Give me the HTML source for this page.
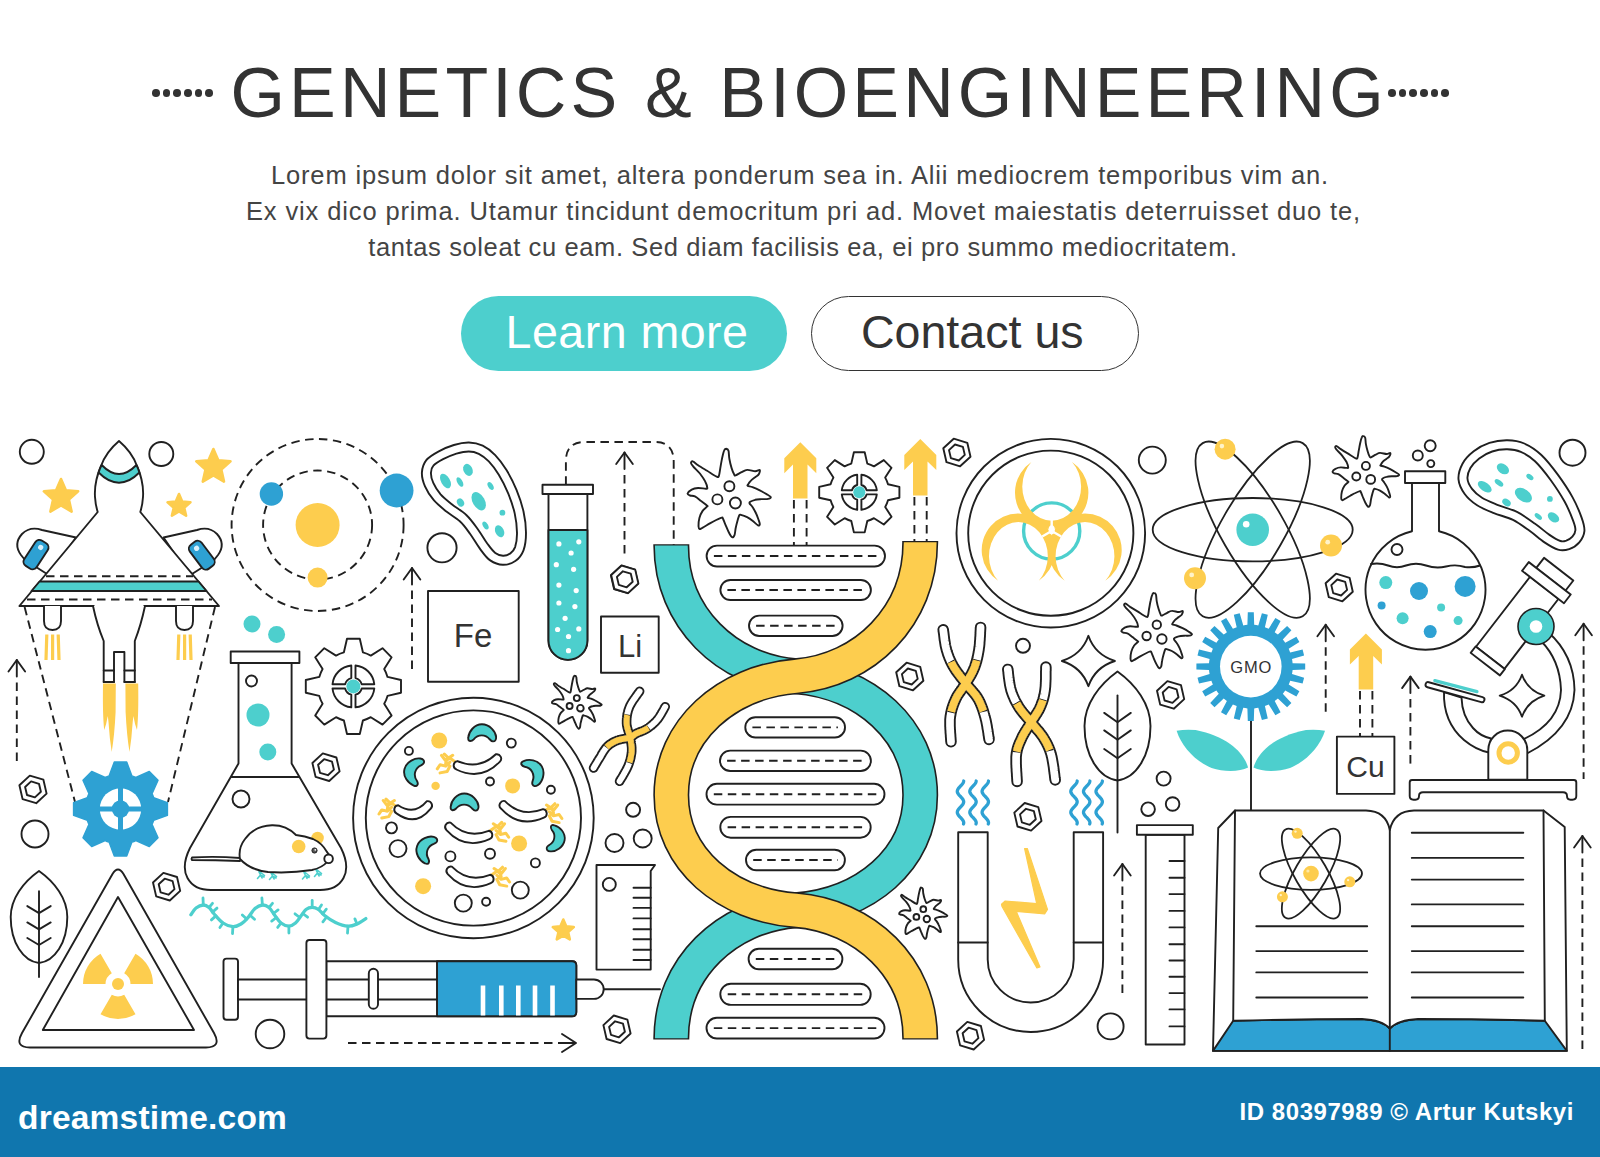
<!DOCTYPE html>
<html lang="en"><head><meta charset="utf-8"><title>Genetics &amp; Bioengineering</title>
<style>
html,body{margin:0;padding:0;background:#fff;}
body{width:1600px;height:1157px;position:relative;overflow:hidden;font-family:"Liberation Sans",sans-serif;color:#333;}
#title{position:absolute;left:230.5px;top:55px;font-size:70px;line-height:76px;letter-spacing:4.13px;color:#333;white-space:nowrap;}
.dots{position:absolute;top:89.1px;height:7.6px;white-space:nowrap;font-size:0;}
.dots i{display:inline-block;width:7.6px;height:7.6px;border-radius:50%;background:#333;margin-right:3px;vertical-align:top;}
#para{position:absolute;left:0;top:157px;width:1600px;text-align:center;font-size:25.5px;line-height:36px;color:#444;white-space:nowrap;}
#para span{display:block;}
.btn{position:absolute;top:296px;height:75px;border-radius:38px;box-sizing:border-box;text-align:center;font-size:46.6px;line-height:72.6px;white-space:nowrap;}
#b1{left:461px;width:326px;background:#4dcfcd;color:#fff;letter-spacing:0.45px;padding-left:6px;}
#b2{left:811px;width:328px;background:#fff;border:1.6px solid #333;color:#333;line-height:71px;padding-right:5.5px;}
#foot{position:absolute;left:0;top:1067px;width:1600px;height:90px;background:#1076ae;}
#logo{position:absolute;left:18px;top:1096px;font-size:33.5px;line-height:44px;font-weight:bold;color:#fff;letter-spacing:0.2px;white-space:nowrap;}
#credit{position:absolute;right:26px;top:1097px;font-size:24px;line-height:30px;font-weight:bold;color:#fff;white-space:nowrap;letter-spacing:0.55px;}
svg{position:absolute;left:0;top:0;}
.l{fill:none;stroke:#202020;stroke-width:1.9;stroke-linecap:round;stroke-linejoin:round;}
.w{fill:#fff;stroke:#202020;stroke-width:1.9;stroke-linecap:round;stroke-linejoin:round;}
.d{fill:none;stroke:#202020;stroke-width:1.9;stroke-dasharray:8.5 5.5;}
.t{fill:#4dcfcd;}.y{fill:#fdcd4e;}.b{fill:#2ea1d3;}
.ts{fill:#4dcfcd;stroke:#202020;stroke-width:1.9;stroke-linejoin:round;}
.bs{fill:#2ea1d3;stroke:#202020;stroke-width:1.9;stroke-linejoin:round;}
text{font-family:"Liberation Sans",sans-serif;fill:#333;}
</style></head><body>
<div id="title">GENETICS &amp; BIOENGINEERING</div>
<div class="dots" style="left:152.3px"><i></i><i></i><i></i><i></i><i></i><i></i></div>
<div class="dots" style="left:1388.2px"><i></i><i></i><i></i><i></i><i></i><i></i></div>
<div id="para"><span id="p1" style="letter-spacing:0.86px">Lorem ipsum dolor sit amet, altera ponderum sea in. Alii mediocrem temporibus vim an.</span><span id="p2" style="letter-spacing:0.875px;padding-left:7px">Ex vix dico prima. Utamur tincidunt democritum pri ad. Movet maiestatis deterruisset duo te,</span><span id="p3" style="letter-spacing:0.62px;padding-left:6px">tantas soleat cu eam. Sed diam facilisis ea, ei pro summo mediocritatem.</span></div>
<div class="btn" id="b1">Learn more</div>
<div class="btn" id="b2">Contact us</div>
<svg width="1600" height="1157" viewBox="0 0 1600 1157">
<rect class="w" x="706.6" y="545.6" width="178.4" height="20.9" rx="10.4"/><path class="d" d="M713.9,556 H877.7"/>
<rect class="w" x="720.4" y="580" width="150.5" height="20" rx="10"/><path class="d" d="M727.4,590 H863.9"/>
<rect class="w" x="749" y="615.6" width="93.6" height="20.4" rx="10.2"/><path class="d" d="M756.1,625.8 H835.5"/>
<rect class="w" x="745.3" y="717.2" width="99.7" height="20.3" rx="10.1"/><path class="d" d="M752.4,727.4 H837.9"/>
<rect class="w" x="720" y="750.6" width="150.9" height="20.4" rx="10.2"/><path class="d" d="M727.1,760.8 H863.8"/>
<rect class="w" x="706.5" y="783.8" width="178" height="20.8" rx="10.4"/><path class="d" d="M713.8,794.2 H877.2"/>
<rect class="w" x="720.3" y="816.9" width="150.4" height="20.8" rx="10.4"/><path class="d" d="M727.6,827.3 H863.4"/>
<rect class="w" x="746" y="849.7" width="98.9" height="20.6" rx="10.3"/><path class="d" d="M753.2,860 H837.7"/>
<rect class="w" x="748.6" y="948.7" width="93.8" height="20.6" rx="10.3"/><path class="d" d="M755.8,959 H835.2"/>
<rect class="w" x="720.3" y="983.8" width="150.4" height="21.1" rx="10.6"/><path class="d" d="M727.7,994.3 H863.3"/>
<rect class="w" x="706.5" y="1017.7" width="178" height="20.8" rx="10.4"/><path class="d" d="M713.8,1028.1 H877.2"/>
<path d="M671.3,544.2 L671.3,545.4C671.3,617.7 727,670.8 796,676.3C864.6,681.8 920.2,730 920.2,795C920.2,860 864.6,904.7 796,910.2C727,915.7 671.3,967.5 671.3,1038.2v1.2" fill="none" stroke="#202020" stroke-width="36"/>
<path d="M671.3,545.4C671.3,617.7 727,670.8 796,676.3C864.6,681.8 920.2,730 920.2,795C920.2,860 864.6,904.7 796,910.2C727,915.7 671.3,967.5 671.3,1038.2" fill="none" stroke="#4dcfcd" stroke-width="32.8"/>
<path d="M920.2,541.1 L920.2,542.3C920.2,616.3 864.5,670.8 795.5,676.3C726.9,681.8 671.3,730 671.3,795C671.3,860 726.9,904.7 795.5,910.2C864.5,915.7 920.2,967.5 920.2,1038.2v1.2" fill="none" stroke="#202020" stroke-width="36"/>
<path d="M920.2,542.3C920.2,616.3 864.5,670.8 795.5,676.3C726.9,681.8 671.3,730 671.3,795C671.3,860 726.9,904.7 795.5,910.2C864.5,915.7 920.2,967.5 920.2,1038.2" fill="none" stroke="#fdcd4e" stroke-width="32.8"/>
<circle class="w" cx="31.8" cy="451.8" r="12" />
<circle class="w" cx="161.3" cy="454" r="12" />
<path d="M61,479L65.9,490.3L78.1,491.4L68.9,499.6L71.6,511.6L61,505.3L50.4,511.6L53.1,499.6L43.9,491.4L56.1,490.3Z" fill="#fdcd4e" stroke="#fdcd4e" stroke-width="2.6" stroke-linejoin="round"/>
<path d="M213.4,449L218.3,460.3L230.5,461.4L221.3,469.6L224,481.6L213.4,475.3L202.8,481.6L205.5,469.6L196.3,461.4L208.5,460.3Z" fill="#fdcd4e" stroke="#fdcd4e" stroke-width="2.6" stroke-linejoin="round"/>
<path d="M179,494L182.2,501.5L190.4,502.3L184.2,507.7L186.1,515.7L179,511.5L171.9,515.7L173.8,507.7L167.6,502.3L175.8,501.5Z" fill="#fdcd4e" stroke="#fdcd4e" stroke-width="2.6" stroke-linejoin="round"/>
<path class="d" d="M24.6,607 L75,802"/>
<path class="d" d="M215,607 L168,802"/>
<path class="w" d="M76,537.5 L42,530 Q30,526 22,534 Q13,544 21,555 L25,560 L47,574 L60,560Z"/>
<path class="w" d="M163.5,537.5 L197,530 Q209,526 217,534 Q226,544 218,555 L214,560 L192,574 L179,560Z"/>
<path class="w" d="M119,441 Q106,452 101,466 Q94,482 95,497 Q95.5,505 97.7,512 L19.4,606 H219 L140.3,512 Q142.5,505 143,497 Q144,482 137,466 Q132,452 119,441Z"/>
<path class="ts" d="M101.7,465 Q119,483 136.4,465 Q138.5,469 139.4,472.5 Q119,493 98.6,472.5 Q99.5,469 101.7,465Z"/>
<path class="d" d="M46,576.3 H193"/>
<path d="M39.5,581.5 H198.5 L206.5,591 H31.5Z" fill="#4dcfcd" stroke="#202020" stroke-width="1.9" stroke-linejoin="round"/>
<path class="d" d="M27,599.5 H212"/>
<g transform="translate(36,554.6) rotate(33)"><rect class="bs" x="-7.4" y="-15" width="14.8" height="30" rx="5"/><circle cx="0" cy="-8.6" r="2.6" fill="#d9f0fb"/></g>
<g transform="translate(201.8,555.2) rotate(-37)"><rect class="bs" x="-7.4" y="-15" width="14.8" height="30" rx="5"/><circle cx="0" cy="-8.6" r="2.6" fill="#d9f0fb"/></g>
<path class="w" d="M44,606 V621 Q44,630 52.5,630 Q61,630 61,621 V606"/>
<path d="M46.8,634.5 L46,660" stroke="#fdcd4e" stroke-width="3.2" fill="none"/>
<path d="M52.6,634.5 L52.6,660" stroke="#fdcd4e" stroke-width="3.2" fill="none"/>
<path d="M58.2,634.5 L59,660" stroke="#fdcd4e" stroke-width="3.2" fill="none"/>
<path class="w" d="M176,606 V621 Q176,630 184.5,630 Q193,630 193,621 V606"/>
<path d="M178.8,634.5 L178,660" stroke="#fdcd4e" stroke-width="3.2" fill="none"/>
<path d="M184.6,634.5 L184.6,660" stroke="#fdcd4e" stroke-width="3.2" fill="none"/>
<path d="M190.2,634.5 L191,660" stroke="#fdcd4e" stroke-width="3.2" fill="none"/>
<path d="M94.5,606 H143.5" stroke="#fff" stroke-width="3"/>
<path class="w" d="M93,606 Q97,625 103.7,641 V682 H114 V652 H124.4 V682 H134.8 V641 Q141,625 145,606"/>
<path class="l" d="M103.7,670.5 H114 M124.4,670.5 H134.8 M103.7,682 H114 M124.4,682 H134.8"/>
<path d="M103,683.5 H115.8 L115.6,712 Q114.5,735 111.7,752 Q109.5,738 108.5,722 L107.8,716 Q106.5,724 104.2,730 Q102.5,715 103,683.5Z" fill="#fdcd4e"/>
<path d="M103,683.5 H115.8 L115.6,712 Q114.5,735 111.7,752 Q109.5,738 108.5,722 L107.8,716 Q106.5,724 104.2,730 Q102.5,715 103,683.5Z" fill="#fdcd4e" transform="translate(241.2 0) scale(-1 1)"/>
<path class="l" d="M8.5,671.5 L16.8,660 L25.1,671.5"/><path class="l" d="M16.8,660 V676.5"/><path class="d" d="M16.8,682.5 V765"/>
<circle class="d" cx="317.6" cy="525" r="86" stroke-dasharray="11 6.5"/>
<circle class="d" cx="317.6" cy="525" r="54.5" stroke-dasharray="11 6.5"/>
<circle cx="317.6" cy="525" r="22" fill="#fdcd4e"/>
<circle cx="271.4" cy="494" r="11.7" fill="#2ea1d3"/>
<circle cx="396.6" cy="490.5" r="16.9" fill="#2ea1d3"/>
<circle cx="317.6" cy="577.6" r="10" fill="#fdcd4e"/>
<circle cx="252" cy="624" r="8.5" fill="#4dcfcd"/>
<circle cx="276.6" cy="634.6" r="8.5" fill="#4dcfcd"/>
<path class="w" d="M238.5,663 V763.5 L190,848 Q181,866 187.5,878 Q194,890 211,890 H320 Q337,890 343.5,878 Q350,866 341,848 L291.6,763.5 V663Z"/>
<rect class="w" x="230.7" y="651.5" width="68.7" height="11.5"/>
<path class="l" d="M231.5,777 H298.5"/>
<circle class="w" cx="251.5" cy="681" r="5.5" />
<circle cx="258" cy="715" r="11.5" fill="#4dcfcd"/>
<circle cx="267.8" cy="752" r="8.5" fill="#4dcfcd"/>
<circle class="w" cx="241" cy="799" r="8.5" />
<circle cx="317.6" cy="838" r="6.2" fill="#fdcd4e"/>
<path class="l" d="M240,858 Q215,856 192,857.5 Q191,859 192,860 Q215,860 240,861" stroke-width="1.2"/>
<path d="M259,872 l3,6 m-1.5,-3 l-3,3.5 m3,-3.5 l3.5,2 m-5,-6 l5.5,4.5" stroke="#4dcfcd" stroke-width="1.6" fill="none" stroke-linecap="round"/>
<path d="M271,873 l3,6 m-1.5,-3 l-3,3.5 m3,-3.5 l3.5,2 m-5,-6 l5.5,4.5" stroke="#4dcfcd" stroke-width="1.6" fill="none" stroke-linecap="round"/>
<path d="M304,872.5 l3,6 m-1.5,-3 l-3,3.5 m3,-3.5 l3.5,2 m-5,-6 l5.5,4.5" stroke="#4dcfcd" stroke-width="1.6" fill="none" stroke-linecap="round"/>
<path d="M316,870 l3,6 m-1.5,-3 l-3,3.5 m3,-3.5 l3.5,2 m-5,-6 l5.5,4.5" stroke="#4dcfcd" stroke-width="1.6" fill="none" stroke-linecap="round"/>
<path class="w" d="M240,859 Q238,848 245,839 Q254,826 272,825.3 Q286,825 296,835 Q305,836 313,839 Q322,843 327,852 Q331,856 328,861 Q322,868 312,870 Q290,873.5 268,872 Q250,870 240,859Z"/>
<circle cx="298.7" cy="846.5" r="6.8" fill="#fdcd4e"/>
<circle class="w" cx="328.6" cy="858.8" r="4.3" />
<circle cx="314.5" cy="850.5" r="2.6" fill="#555" stroke="#202020" stroke-width="1"/><circle cx="315.3" cy="849.8" r="0.9" fill="#fff"/>
<path d="M190.9,914.7C191.8,913.6 193.9,909.6 196,908C198.1,906.4 201.1,905.1 203.3,905C205.5,904.9 207.2,906 209,907.5C210.8,909 211.9,911.4 214.2,914C216.5,916.6 219.9,920.9 223,923C226.1,925.1 229.9,926.5 232.9,926.7C235.9,926.9 238.4,925.6 241,924C243.6,922.4 246.1,919.7 248.4,917.1C250.7,914.5 252.7,910.5 255,908.5C257.3,906.5 260.1,905.2 262.4,905C264.7,904.8 266.9,905.8 269,907.5C271.1,909.2 272.9,912.9 274.9,915.5C276.9,918.1 278.7,921.2 281,923C283.3,924.8 286.5,926.1 288.9,926.1C291.3,926.1 293.4,924.8 295.5,923C297.6,921.2 299.6,917.8 301.3,915.5C303.1,913.2 304.2,910.9 306,909.5C307.8,908.1 310.1,907.4 312.2,907.4C314.3,907.4 316.4,908.1 318.5,909.5C320.6,910.9 321.8,913.3 324.6,915.5C327.4,917.7 331.6,920.7 335.5,922.5C339.4,924.3 344.4,925.9 348,926.1C351.6,926.4 354,925.2 357,924C360,922.8 364.3,919.5 365.8,918.6" fill="none" stroke="#4dcfcd" stroke-width="3.3" stroke-linecap="round"/>
<path d="M203.3,905 L203,898" stroke="#4dcfcd" stroke-width="2.8" stroke-linecap="round"/>
<path d="M262.4,905 L261.9,898" stroke="#4dcfcd" stroke-width="2.8" stroke-linecap="round"/>
<path d="M312.2,907.4 L312.2,900.4" stroke="#4dcfcd" stroke-width="2.8" stroke-linecap="round"/>
<path d="M232.9,926.7 L232.5,933.7" stroke="#4dcfcd" stroke-width="2.8" stroke-linecap="round"/>
<path d="M288.9,926.1 L288.9,933.1" stroke="#4dcfcd" stroke-width="2.8" stroke-linecap="round"/>
<path d="M348,926.1 L347.5,933.1" stroke="#4dcfcd" stroke-width="2.8" stroke-linecap="round"/>
<path d="M212.5,912.1 L217,908.1" stroke="#4dcfcd" stroke-width="2.8" stroke-linecap="round"/>
<path d="M215.9,915.9 L211.4,919.9" stroke="#4dcfcd" stroke-width="2.8" stroke-linecap="round"/>
<path d="M246.7,919 L242.3,914.9" stroke="#4dcfcd" stroke-width="2.8" stroke-linecap="round"/>
<path d="M250.1,915.2 L254.5,919.3" stroke="#4dcfcd" stroke-width="2.8" stroke-linecap="round"/>
<path d="M273.4,913.5 L278.1,909.9" stroke="#4dcfcd" stroke-width="2.8" stroke-linecap="round"/>
<path d="M276.4,917.5 L271.7,921.1" stroke="#4dcfcd" stroke-width="2.8" stroke-linecap="round"/>
<path d="M299.8,917.5 L295,913.8" stroke="#4dcfcd" stroke-width="2.8" stroke-linecap="round"/>
<path d="M302.8,913.5 L307.6,917.2" stroke="#4dcfcd" stroke-width="2.8" stroke-linecap="round"/>
<path d="M322.6,914 L326.3,909.2" stroke="#4dcfcd" stroke-width="2.8" stroke-linecap="round"/>
<path d="M326.6,917 L322.9,921.8" stroke="#4dcfcd" stroke-width="2.8" stroke-linecap="round"/>
<path d="M209,907.5 L212.5,903.3" stroke="#4dcfcd" stroke-width="2.8" stroke-linecap="round"/>
<path d="M269,907.5 L272.5,903.3" stroke="#4dcfcd" stroke-width="2.8" stroke-linecap="round"/>
<path d="M318.5,909.5 L321.5,904.9" stroke="#4dcfcd" stroke-width="2.8" stroke-linecap="round"/>
<path d="M357,924 L354.9,918.9" stroke="#4dcfcd" stroke-width="2.8" stroke-linecap="round"/>
<path d="M223,923 L219.9,927.5" stroke="#4dcfcd" stroke-width="2.8" stroke-linecap="round"/>
<path d="M281,923 L277.7,927.4" stroke="#4dcfcd" stroke-width="2.8" stroke-linecap="round"/>
<path d="M109.1,775.9L114.3,762.1L126.7,762.1L131.9,775.9A35,35 0 0 1 135.8,777.5L149.3,771.5L158,780.2L152,793.7A35,35 0 0 1 153.6,797.6L167.4,802.8L167.4,815.2L153.6,820.4A35,35 0 0 1 152,824.3L158,837.8L149.3,846.5L135.8,840.5A35,35 0 0 1 131.9,842.1L126.7,855.9L114.3,855.9L109.1,842.1A35,35 0 0 1 105.2,840.5L91.7,846.5L83,837.8L89,824.3A35,35 0 0 1 87.4,820.4L73.6,815.2L73.6,802.8L87.4,797.6A35,35 0 0 1 89,793.7L83,780.2L91.7,771.5L105.2,777.5A35,35 0 0 1 109.1,775.9Z" fill="#2ea1d3" stroke="#2ea1d3" stroke-width="1.5" stroke-linejoin="round"/>
<circle cx="120.5" cy="809" r="20.7" fill="#fff"/>
<circle cx="120.5" cy="809" r="8.7" fill="#2ea1d3"/>
<path d="M98.5,809 H142.5 M120.5,787 V831" stroke="#2ea1d3" stroke-width="5"/>
<path class="w" d="M112.5,874 Q118,865 123.5,874 L214,1033 Q222,1047.5 206,1047.5 H30 Q14,1047.5 22,1033Z"/>
<path class="w" d="M118,897 L194,1030 H42.8Z"/>
<path d="M105.5,984 L83,984 A35,35 0 0 1 100.5,953.7 L111.8,973.2 A12.5,12.5 0 0 0 105.5,984Z" fill="#fdcd4e"/>
<path d="M124.2,973.2 L135.5,953.7 A35,35 0 0 1 153,984 L130.5,984 A12.5,12.5 0 0 0 124.2,973.2Z" fill="#fdcd4e"/>
<path d="M124.2,994.8 L135.5,1014.3 A35,35 0 0 1 100.5,1014.3 L111.8,994.8 A12.5,12.5 0 0 0 124.2,994.8Z" fill="#fdcd4e"/>
<circle cx="118" cy="984" r="6" fill="#fdcd4e"/>
<path class="w" d="M468.9,442.5C473.7,442.6 478.3,443.6 482.7,445.7C487.1,447.8 491.2,451 495.2,455.1C499.2,459.2 502.9,464.2 506.5,470.1C510.1,476 513.8,483.3 516.6,490.2C519.4,497.1 521.9,504.4 523.5,511.5C525.1,518.6 526,526.3 526,532.8C526,539.3 525.3,545.6 523.5,550.3C521.7,555 518.8,558.6 515.3,561C511.8,563.4 507,564.9 502.8,564.8C498.6,564.7 494,563 490.2,560.4C486.4,557.8 483.5,553.5 480.2,549.1C476.9,544.7 473.5,538.6 470.2,534C466.9,529.4 464.1,525.2 460.1,521.5C456.1,517.8 450.8,515 446.4,511.5C442,507.9 437.4,504.4 433.8,500.2C430.2,496 427,491 425,486.4C423,481.8 421.7,477 421.9,472.6C422.1,468.2 423.5,463.7 426.3,460.1C429.1,456.6 434.2,453.8 438.8,451.3C443.4,448.8 448.9,446.5 453.9,445C458.9,443.5 464.1,442.4 468.9,442.5Z"/>
<path class="l" d="M468.7,451.5C472.4,451.5 475.5,452.2 478.8,453.8C482.2,455.5 485.4,457.9 488.8,461.4C492.1,464.9 495.6,469.4 498.8,474.8C502.1,480.2 505.6,487.2 508.3,493.6C510.9,500.1 513.3,506.9 514.7,513.4C516.2,520 516.9,527.2 517,532.8C517.1,538.4 516.2,543.6 515.1,547.1C513.9,550.6 512.1,552.2 510.1,553.6C508.1,555.1 505.5,555.9 503,555.8C500.5,555.7 497.9,555 495.3,553C492.7,551 490.4,547.7 487.4,543.7C484.4,539.6 481,533.5 477.5,528.7C474,523.9 470.5,519 466.3,515C462,510.9 456.3,507.9 452.1,504.5C447.8,501.1 443.8,498 440.6,494.4C437.5,490.7 434.9,486.4 433.3,482.8C431.6,479.3 430.9,475.9 430.9,473C430.9,470.2 431.3,468 433.4,465.7C435.4,463.4 439.3,461.2 443.1,459.2C447,457.2 452.2,454.9 456.4,453.6C460.7,452.4 465,451.5 468.7,451.5Z"/>
<ellipse cx="468" cy="469.9" rx="4.5" ry="6.3" fill="#4dcfcd" transform="rotate(-25 468 469.9)"/>
<ellipse cx="445.5" cy="481" rx="4.4" ry="8" fill="#4dcfcd" transform="rotate(-30 445.5 481)"/>
<ellipse cx="459.9" cy="482" rx="2.6" ry="5.3" fill="#4dcfcd" transform="rotate(-30 459.9 482)"/>
<ellipse cx="490.6" cy="486" rx="2.5" ry="4.4" fill="#4dcfcd" transform="rotate(-30 490.6 486)"/>
<ellipse cx="478.7" cy="501.2" rx="6" ry="10" fill="#4dcfcd" transform="rotate(-30 478.7 501.2)"/>
<ellipse cx="460.5" cy="502.5" rx="3.4" ry="4.3" fill="#4dcfcd" transform="rotate(-30 460.5 502.5)"/>
<ellipse cx="502.4" cy="512.7" rx="2.9" ry="2.9" fill="#4dcfcd" transform="rotate(0 502.4 512.7)"/>
<ellipse cx="485.5" cy="525.5" rx="2.5" ry="4.4" fill="#4dcfcd" transform="rotate(-30 485.5 525.5)"/>
<ellipse cx="499.6" cy="531.3" rx="4.3" ry="6.3" fill="#4dcfcd" transform="rotate(-25 499.6 531.3)"/>
<circle class="w" cx="442" cy="547.8" r="14.6" />
<path class="l" d="M403.7,579.5 L412,568 L420.3,579.5"/><path class="l" d="M412,568 V584.5"/><path class="d" d="M412,590.5 V672.8"/>
<rect class="w" x="428" y="591" width="90.7" height="90.8"/>
<text x="473" y="646.5" font-size="33" text-anchor="middle">Fe</text>
<path class="d" d="M565.9,484.8 V461 Q565.9,442 584.8,442 H654.8 Q673.7,442 673.7,461.5 V545"/>
<path class="w" d="M548.5,494 V640.4 A19.45,19.45 0 0 0 587.4,640.4 V494Z"/>
<path class="ts" d="M548.5,530 V640.4 A19.45,19.45 0 0 0 587.4,640.4 V530Z"/>
<rect class="w" x="542.5" y="484.8" width="50.5" height="9.2"/>
<circle cx="558.9" cy="543.9" r="2.6" fill="#fff"/>
<circle cx="578.8" cy="541.8" r="2.6" fill="#fff"/>
<circle cx="571.1" cy="553" r="2.6" fill="#fff"/>
<circle cx="556.3" cy="564.7" r="2.6" fill="#fff"/>
<circle cx="573.6" cy="569.3" r="2.6" fill="#fff"/>
<circle cx="558.9" cy="585.1" r="2.6" fill="#fff"/>
<circle cx="576.2" cy="590.6" r="2.6" fill="#fff"/>
<circle cx="558.9" cy="603" r="2.6" fill="#fff"/>
<circle cx="574.9" cy="606.6" r="2.6" fill="#fff"/>
<circle cx="565.1" cy="618.3" r="2.6" fill="#fff"/>
<circle cx="557.6" cy="629.5" r="2.6" fill="#fff"/>
<circle cx="578.8" cy="628.9" r="2.6" fill="#fff"/>
<circle cx="568.5" cy="636.5" r="2.6" fill="#fff"/>
<circle cx="568.5" cy="650.7" r="2.6" fill="#fff"/>
<path class="l" d="M616.2,464 L624.5,452.5 L632.8,464"/><path class="l" d="M624.5,452.5 V469"/><path class="d" d="M624.5,475 V557.5"/>
<path class="w" d="M638.1,583.6L627.7,593.2L614.1,589.1L610.9,575.2L621.3,565.6L634.9,569.7Z"/><path class="l" d="M632.4,581.8L626.4,587.4L618.5,585L616.6,577L622.6,571.4L630.5,573.8Z"/>
<rect class="w" x="601" y="616.5" width="57.7" height="56.3"/>
<text x="630" y="656.5" font-size="31" text-anchor="middle">Li</text>
<circle class="w" cx="473.4" cy="818" r="120.3" />
<circle class="w" cx="473.4" cy="818" r="107.6" />
<circle cx="439.2" cy="740.5" r="8" fill="#fdcd4e"/>
<circle cx="512.6" cy="785.9" r="7.5" fill="#fdcd4e"/>
<circle cx="435.6" cy="785.9" r="4.2" fill="#fdcd4e"/>
<circle cx="519.1" cy="843.5" r="8" fill="#fdcd4e"/>
<circle cx="423.1" cy="886.2" r="8" fill="#fdcd4e"/>
<circle class="w" cx="408.9" cy="750.9" r="4" />
<circle class="w" cx="511.3" cy="743.1" r="4.5" />
<circle class="w" cx="490" cy="781.5" r="4" />
<circle class="w" cx="550.9" cy="789.8" r="4" />
<circle class="w" cx="391.5" cy="827.9" r="5.5" />
<circle class="w" cx="398" cy="848.6" r="8.5" />
<circle class="w" cx="450.4" cy="856.4" r="5" />
<circle class="w" cx="490" cy="853.8" r="5" />
<circle class="w" cx="535.4" cy="862.9" r="4.5" />
<circle class="w" cx="520.3" cy="890.1" r="8.5" />
<circle class="w" cx="463.3" cy="903.1" r="8.5" />
<circle class="w" cx="486.1" cy="901.8" r="4" />
<path class="ts" transform="translate(482.2 732.8) rotate(0) scale(1.0)" d="M-13.9,4.7 C-13.5,-1 -8,-8.5 -0.3,-8.5 C7.5,-8.5 13.5,-1 13.9,4.1 C14.2,7.5 12.5,8.8 10.6,8.6 C9,8.4 8.6,7.5 7.5,6.5 C5.5,4 2.5,2.6 -0.5,2.6 C-3.5,2.6 -6.5,4 -8.5,6.5 C-9.5,7.6 -10.5,8.3 -12.1,8.2 C-13.6,8 -14.2,6.8 -13.9,4.7Z" stroke-width="1.6"/>
<path class="ts" transform="translate(412.8 770.9) rotate(-75) scale(1.0)" d="M-13.9,4.7 C-13.5,-1 -8,-8.5 -0.3,-8.5 C7.5,-8.5 13.5,-1 13.9,4.1 C14.2,7.5 12.5,8.8 10.6,8.6 C9,8.4 8.6,7.5 7.5,6.5 C5.5,4 2.5,2.6 -0.5,2.6 C-3.5,2.6 -6.5,4 -8.5,6.5 C-9.5,7.6 -10.5,8.3 -12.1,8.2 C-13.6,8 -14.2,6.8 -13.9,4.7Z" stroke-width="1.6"/>
<path class="ts" transform="translate(534.6 770.9) rotate(60) scale(1.0)" d="M-13.9,4.7 C-13.5,-1 -8,-8.5 -0.3,-8.5 C7.5,-8.5 13.5,-1 13.9,4.1 C14.2,7.5 12.5,8.8 10.6,8.6 C9,8.4 8.6,7.5 7.5,6.5 C5.5,4 2.5,2.6 -0.5,2.6 C-3.5,2.6 -6.5,4 -8.5,6.5 C-9.5,7.6 -10.5,8.3 -12.1,8.2 C-13.6,8 -14.2,6.8 -13.9,4.7Z" stroke-width="1.6"/>
<path class="ts" transform="translate(464.6 802) rotate(0) scale(1.0)" d="M-13.9,4.7 C-13.5,-1 -8,-8.5 -0.3,-8.5 C7.5,-8.5 13.5,-1 13.9,4.1 C14.2,7.5 12.5,8.8 10.6,8.6 C9,8.4 8.6,7.5 7.5,6.5 C5.5,4 2.5,2.6 -0.5,2.6 C-3.5,2.6 -6.5,4 -8.5,6.5 C-9.5,7.6 -10.5,8.3 -12.1,8.2 C-13.6,8 -14.2,6.8 -13.9,4.7Z" stroke-width="1.6"/>
<path class="ts" transform="translate(425.2 848.6) rotate(-70) scale(1.0)" d="M-13.9,4.7 C-13.5,-1 -8,-8.5 -0.3,-8.5 C7.5,-8.5 13.5,-1 13.9,4.1 C14.2,7.5 12.5,8.8 10.6,8.6 C9,8.4 8.6,7.5 7.5,6.5 C5.5,4 2.5,2.6 -0.5,2.6 C-3.5,2.6 -6.5,4 -8.5,6.5 C-9.5,7.6 -10.5,8.3 -12.1,8.2 C-13.6,8 -14.2,6.8 -13.9,4.7Z" stroke-width="1.6"/>
<path class="ts" transform="translate(556.6 839.1) rotate(100) scale(0.95)" d="M-13.9,4.7 C-13.5,-1 -8,-8.5 -0.3,-8.5 C7.5,-8.5 13.5,-1 13.9,4.1 C14.2,7.5 12.5,8.8 10.6,8.6 C9,8.4 8.6,7.5 7.5,6.5 C5.5,4 2.5,2.6 -0.5,2.6 C-3.5,2.6 -6.5,4 -8.5,6.5 C-9.5,7.6 -10.5,8.3 -12.1,8.2 C-13.6,8 -14.2,6.8 -13.9,4.7Z" stroke-width="1.6"/>
<path transform="translate(455.5 762.1) scale(1.4 1.35)" d="M0,0 l-4,-3 l-3,2 l-3,-4 m6,5 l-3,3 l-4,-1 l-2,3 m9,-2 l-2,4 l-5,1 m3,-14 l3,3 l3,-2 m-4,2 l-1,4" fill="none" stroke="#fdcd4e" stroke-width="2.2" stroke-linecap="round" stroke-linejoin="round"/>
<path class="w" transform="translate(477.6 763.1) rotate(-10)" d="M-19.5,-5.5 Q0,7.5 19.5,-5.5 A4.4,4.4 0 0 1 22,2.6 Q0,18.5 -22,2.6 A4.4,4.4 0 0 1 -19.5,-5.5Z"/>
<path transform="translate(397.2 807.2) scale(1.4 1.35)" d="M0,0 l-4,-3 l-3,2 l-3,-4 m6,5 l-3,3 l-4,-1 l-2,3 m9,-2 l-2,4 l-5,1 m3,-14 l3,3 l3,-2 m-4,2 l-1,4" fill="none" stroke="#fdcd4e" stroke-width="2.2" stroke-linecap="round" stroke-linejoin="round"/>
<path class="w" transform="translate(413.3 808.7) rotate(-8)" d="M-14.5,-5.5 Q0,7.5 14.5,-5.5 A4.4,4.4 0 0 1 17,2.6 Q0,18.5 -17,2.6 A4.4,4.4 0 0 1 -14.5,-5.5Z"/>
<path transform="translate(543.7 811.8) scale(-1.4 1.35)" d="M0,0 l-4,-3 l-3,2 l-3,-4 m6,5 l-3,3 l-4,-1 l-2,3 m9,-2 l-2,4 l-5,1 m3,-14 l3,3 l3,-2 m-4,2 l-1,4" fill="none" stroke="#fdcd4e" stroke-width="2.2" stroke-linecap="round" stroke-linejoin="round"/>
<path class="w" transform="translate(522.9 810.5) rotate(12)" d="M-19.5,-5.5 Q0,7.5 19.5,-5.5 A4.4,4.4 0 0 1 22,2.6 Q0,18.5 -22,2.6 A4.4,4.4 0 0 1 -19.5,-5.5Z"/>
<path transform="translate(490.5 830.5) scale(-1.4 1.35)" d="M0,0 l-4,-3 l-3,2 l-3,-4 m6,5 l-3,3 l-4,-1 l-2,3 m9,-2 l-2,4 l-5,1 m3,-14 l3,3 l3,-2 m-4,2 l-1,4" fill="none" stroke="#fdcd4e" stroke-width="2.2" stroke-linecap="round" stroke-linejoin="round"/>
<path class="w" transform="translate(468.5 832.1) rotate(12)" d="M-19.5,-5.5 Q0,7.5 19.5,-5.5 A4.4,4.4 0 0 1 22,2.6 Q0,18.5 -22,2.6 A4.4,4.4 0 0 1 -19.5,-5.5Z"/>
<path transform="translate(491.3 875.3) scale(-1.4 1.35)" d="M0,0 l-4,-3 l-3,2 l-3,-4 m6,5 l-3,3 l-4,-1 l-2,3 m9,-2 l-2,4 l-5,1 m3,-14 l3,3 l3,-2 m-4,2 l-1,4" fill="none" stroke="#fdcd4e" stroke-width="2.2" stroke-linecap="round" stroke-linejoin="round"/>
<path class="w" transform="translate(469.8 876.1) rotate(12)" d="M-19.5,-5.5 Q0,7.5 19.5,-5.5 A4.4,4.4 0 0 1 22,2.6 Q0,18.5 -22,2.6 A4.4,4.4 0 0 1 -19.5,-5.5Z"/>
<path class="w" d="M343.9,652.3L347,638.8L359.8,638.8L362.9,652.3A35.4,35.4 0 0 1 370.8,655.6L382.5,648.2L391.6,657.3L384.2,669A35.4,35.4 0 0 1 387.5,676.9L401,680L401,692.8L387.5,695.9A35.4,35.4 0 0 1 384.2,703.8L391.6,715.5L382.5,724.6L370.8,717.2A35.4,35.4 0 0 1 362.9,720.5L359.8,734L347,734L343.9,720.5A35.4,35.4 0 0 1 336,717.2L324.3,724.6L315.2,715.5L322.6,703.8A35.4,35.4 0 0 1 319.3,695.9L305.8,692.8L305.8,680L319.3,676.9A35.4,35.4 0 0 1 322.6,669L315.2,657.3L324.3,648.2L336,655.6A35.4,35.4 0 0 1 343.9,652.3Z"/>
<path class="l" d="M361.7,688.5 L374.3,688.5 A21,21 0 0 1 355.5,707.3 L355.5,694.7 A8.6,8.6 0 0 0 361.7,688.5Z" stroke-width="1.9"/>
<path class="l" d="M345.1,688.5 L332.5,688.5 A21,21 0 0 0 351.3,707.3 L351.3,694.7 A8.6,8.6 0 0 1 345.1,688.5Z" stroke-width="1.9"/>
<path class="l" d="M345.1,684.3 L332.5,684.3 A21,21 0 0 1 351.3,665.5 L351.3,678.1 A8.6,8.6 0 0 0 345.1,684.3Z" stroke-width="1.9"/>
<path class="l" d="M361.7,684.3 L374.3,684.3 A21,21 0 0 0 355.5,665.5 L355.5,678.1 A8.6,8.6 0 0 1 361.7,684.3Z" stroke-width="1.9"/>
<circle cx="353.4" cy="686.4" r="7" fill="#4dcfcd"/>
<path class="w" d="M46.6,793.6L36.2,803.2L22.6,799.1L19.4,785.2L29.8,775.6L43.4,779.7Z"/><path class="l" d="M40.9,791.8L34.9,797.4L27,795L25.1,787L31.1,781.4L39,783.8Z"/>
<circle class="w" cx="35" cy="834" r="13.5" />
<path class="w" d="M180.2,890.9L169.8,900.5L156.2,896.4L153,882.5L163.4,872.9L177,877Z"/><path class="l" d="M174.5,889.1L168.5,894.7L160.6,892.3L158.7,884.3L164.7,878.7L172.6,881.1Z"/>
<path class="w" d="M339.6,771.4L329.2,781L315.6,776.9L312.4,763L322.8,753.4L336.4,757.5Z"/><path class="l" d="M333.9,769.6L327.9,775.2L320,772.8L318.1,764.8L324.1,759.2L332,761.6Z"/>
<path class="w" d="M39,871 C23.4,882 10.7,898.6 10.7,917 C10.7,942.8 23.4,961.2 39,963 C54.6,961.2 67.3,942.8 67.3,917 C67.3,898.6 54.6,882 39,871Z"/>
<path class="l" d="M39,891.2 V977"/>
<path class="l" d="M27.3,906.1 L39,913.1 L50.7,906.1"/>
<path class="l" d="M27.3,922.4 L39,929.4 L50.7,922.4"/>
<path class="l" d="M27.3,938 L39,945 L50.7,938"/>
<path class="w" d="M574.9,675.7C574.5,675.6 574.1,675.7 573.7,676.6C573.3,677.5 572.9,679.5 572.5,681.2C572.1,683 571.7,685.4 571.4,687.2C571.1,689 570.9,691 570.6,691.8C570.2,692.7 570.4,692.9 569.2,692.4C568,691.9 565.3,690 563.5,688.8C561.6,687.7 559.5,686.4 558,685.5C556.6,684.5 555.6,683.4 554.9,683.2C554.2,683 553.8,683.7 553.8,684.2C553.8,684.7 554.1,685.1 555,686.1C555.9,687.2 557.9,688.9 559.1,690.5C560.3,692 561.6,693.9 562.4,695.4C563.1,696.8 563.5,698.4 563.6,699.1C563.6,699.8 563.6,699.6 562.7,699.6C561.7,699.6 559.4,699.1 558,699.2C556.6,699.3 555.3,699.6 554.2,700.1C553.2,700.7 551.9,701.9 551.8,702.5C551.6,703 552.5,703.4 553.2,703.7C554,703.9 555.1,703.7 556.1,704.2C557.2,704.7 558.5,705.9 559.7,706.8C560.9,707.7 562.8,709.1 563.4,709.6C564,710.2 563.8,709.8 563.4,710.4C562.9,710.9 561.5,711.8 560.8,712.9C560,714 559.3,715.6 558.8,717.2C558.4,718.7 558.3,720.9 558.3,722.1C558.3,723.2 558.6,723.6 559,723.8C559.4,724 559.6,723.6 560.6,723C561.7,722.5 563.7,721.2 565.1,720.4C566.5,719.6 567.7,718.9 568.9,718.4C570.1,717.8 571.6,717.1 572.3,716.9C573,716.8 572.7,716.9 573,717.6C573.4,718.3 573.8,719.6 574.4,721C575,722.3 575.9,724.6 576.5,725.9C577.2,727.2 577.9,728.4 578.5,728.7C579,729 579.6,728.4 579.9,727.5C580.3,726.6 580.3,724.6 580.6,723.1C580.9,721.7 581.4,720.1 581.7,718.8C582.1,717.5 582.5,716.1 582.8,715.5C583.1,714.9 583,715.1 583.7,715.3C584.5,715.5 586.3,716 587.4,716.6C588.6,717.2 589.6,718 590.7,718.8C591.8,719.6 593.4,721.3 594.1,721.6C594.8,722 595,721.4 595.1,721C595.1,720.5 594.9,719.9 594.5,718.8C594.1,717.7 593.5,715.8 592.9,714.4C592.2,713.1 591.4,711.6 590.7,710.6C590,709.6 589.2,709 589,708.4C588.7,707.9 588.8,707.8 589.3,707.5C589.9,707.1 591.2,706.5 592.3,706.3C593.5,706 594.9,705.9 596.1,705.8C597.4,705.7 599.1,705.9 600.1,705.7C601,705.5 601.8,705.1 601.7,704.6C601.6,704.2 600.5,703.7 599.4,703C598.3,702.3 596.5,701.3 595.1,700.5C593.6,699.8 591.9,699.1 590.7,698.6C589.5,698.2 588.3,698.1 587.9,697.9C587.4,697.6 587.7,697.6 588,697.1C588.3,696.6 588.9,695.6 589.6,694.8C590.3,694.1 591.5,693.3 592.3,692.7C593.1,692 593.9,691.7 594.4,691C594.9,690.3 595.4,688.7 595.1,688.4C594.7,688.1 593.6,689.1 592.3,689.1C591.1,689.1 588.8,688.2 587.4,688.3C586.1,688.4 585.3,689.1 584.2,689.7C583,690.2 581.4,691.3 580.6,691.6C579.9,691.8 580.1,691.9 579.7,691.1C579.3,690.4 578.7,688.8 578.2,687.2C577.7,685.6 577.1,683.5 576.8,681.8C576.5,680 576.6,677.9 576.3,676.9C576,675.8 575.3,675.7 574.9,675.7Z"/><circle class="w" cx="576.8" cy="698.1" r="3" /><circle class="w" cx="569.6" cy="706" r="3" /><circle class="w" cx="580.4" cy="708.2" r="3.3" />
<path d="M639.6,691.3L639.4,691.7L639.1,692.1L638.8,692.5L638.4,693L638,693.6L637.6,694.1L637.1,694.8L636.7,695.4L636.2,696.1L635.7,696.8L635.2,697.5L634.7,698.2L634.2,699L633.6,699.7L633.1,700.5L632.6,701.3L632.1,702L631.7,702.8L631.2,703.5L630.8,704.3L630.4,705L630,705.7L629.7,706.4L629.4,707.1L629.1,707.8L628.9,708.4L628.7,709.1L628.4,709.7L628.2,710.4L628,711.1L627.9,711.7L627.7,712.4L627.5,713L627.4,713.7L627.3,714.4L627.2,715L627,715.7L627,716.3L626.9,717L626.8,717.7L626.7,718.3L626.7,719L626.7,719.6L626.6,720.2L626.6,720.9L626.6,721.5L626.6,722.2L626.6,722.8L626.6,723.4L626.7,724.1L626.7,724.7L626.8,725.3L626.9,725.9L627.1,726.6L627.2,727.2L627.3,727.8L627.5,728.4L627.7,729L627.8,729.6L628,730.2L628.2,730.8L628.4,731.5L628.6,732.1L628.8,732.7L628.9,733.3L629.1,733.9L629.3,734.4L629.5,735L629.6,735.6L629.8,736.2L629.9,736.8L630,737.4L630.1,738L630.2,738.6L630.3,739.1L630.4,739.7L630.6,740.3L630.7,740.8L630.8,741.4L630.9,741.9L631,742.5L631.1,743L631.2,743.6L631.3,744.1L631.4,744.7L631.4,745.3L631.5,745.8L631.6,746.4L631.6,746.9L631.7,747.5L631.7,748L631.7,748.6L631.7,749.2L631.7,749.7L631.7,750.3L631.7,750.9L631.7,751.5L631.6,752.1L631.6,752.7L631.5,753.3L631.4,753.8L631.3,754.4L631.2,755L631.1,755.6L631,756.2L630.9,756.8L630.8,757.4L630.6,758.1L630.5,758.7L630.4,759.3L630.2,759.9L630,760.5L629.8,761.1L629.6,761.7L629.4,762.4L629.2,763L629,763.6L628.8,764.2L628.5,764.9L628.3,765.5L628,766.1L627.7,766.8L627.4,767.5L627.1,768.2L626.7,769L626.3,769.7L625.9,770.5L625.5,771.3L625,772L624.6,772.8L624.2,773.6L623.7,774.3L623.3,775.1L622.9,775.8L622.5,776.5L622.1,777.2L621.7,777.8L621.3,778.4L620.9,779L620.6,779.6L620.3,780.1L620,780.5L619.8,780.9L619.6,781.3" fill="none" stroke="#202020" stroke-width="9.6" stroke-linecap="round" stroke-linejoin="round"/><path d="M665.2,706.8L665,707.1L664.8,707.4L664.6,707.8L664.4,708.2L664.1,708.7L663.9,709.1L663.6,709.7L663.3,710.2L663,710.8L662.7,711.3L662.3,711.9L662,712.5L661.6,713.2L661.3,713.8L660.9,714.4L660.5,715L660.2,715.6L659.8,716.2L659.4,716.8L659,717.4L658.6,717.9L658.3,718.4L657.9,718.9L657.5,719.4L657.1,719.8L656.7,720.3L656.4,720.7L656,721.2L655.6,721.6L655.2,722L654.8,722.4L654.4,722.8L653.9,723.2L653.5,723.6L653.1,724L652.7,724.4L652.2,724.7L651.8,725.1L651.4,725.5L650.9,725.8L650.5,726.2L650.1,726.5L649.6,726.8L649.2,727.2L648.7,727.5L648.3,727.8L647.8,728.1L647.4,728.4L647,728.7L646.5,729L646,729.2L645.5,729.5L645.1,729.7L644.6,730L644.1,730.2L643.6,730.4L643.1,730.7L642.6,730.9L642.1,731.1L641.6,731.3L641.1,731.5L640.6,731.7L640.1,731.8L639.6,732L639.1,732.2L638.7,732.4L638.2,732.6L637.8,732.8L637.4,732.9L637,733.1L636.6,733.3L636.2,733.5L635.9,733.7L635.5,733.9L635.2,734.1L635,734.2L634.7,734.4L634.5,734.6L634.2,734.7L634,734.9L633.8,735.1L633.6,735.3L633.4,735.4L633.2,735.6L633,735.7L632.8,735.9L632.6,736L632.4,736.2L632.2,736.4L631.9,736.5L631.6,736.7L631.4,736.8L631.1,737L630.7,737.1L630.4,737.3L630,737.4L629.6,737.5L629.1,737.7L628.7,737.8L628.2,737.9L627.7,738L627.2,738.2L626.6,738.3L626.1,738.4L625.5,738.5L624.9,738.6L624.3,738.7L623.7,738.8L623.1,738.9L622.5,739L622,739.1L621.4,739.3L620.8,739.4L620.2,739.5L619.6,739.7L619.1,739.8L618.5,740L618,740.1L617.5,740.3L617,740.5L616.5,740.7L616.1,740.9L615.6,741.1L615.1,741.3L614.7,741.5L614.2,741.7L613.8,741.9L613.4,742.2L612.9,742.4L612.5,742.6L612.1,742.8L611.7,743.1L611.3,743.3L610.9,743.6L610.5,743.9L610.1,744.2L609.7,744.4L609.3,744.7L608.9,745.1L608.5,745.4L608.1,745.7L607.8,746.1L607.4,746.4L607,746.8L606.6,747.2L606.3,747.6L605.9,748L605.5,748.5L605.2,749L604.8,749.5L604.5,750L604.1,750.5L603.8,751L603.4,751.5L603.1,752.1L602.8,752.6L602.4,753.2L602.1,753.7L601.8,754.3L601.5,754.8L601.2,755.3L600.9,755.9L600.6,756.4L600.3,756.9L600,757.4L599.7,757.9L599.4,758.3L599.1,758.8L598.8,759.2L598.5,759.7L598.3,760.1L598,760.6L597.7,761.1L597.4,761.5L597.2,762L596.9,762.4L596.6,762.9L596.4,763.3L596.1,763.7L595.9,764.2L595.6,764.6L595.4,765L595.2,765.3L594.9,765.7L594.7,766.1L594.5,766.4L594.3,766.7L594.2,767L594,767.3L593.9,767.6L593.7,767.8L593.6,768" fill="none" stroke="#202020" stroke-width="9.6" stroke-linecap="round" stroke-linejoin="round"/><path d="M639.6,691.3L639.4,691.7L639.1,692.1L638.8,692.5L638.4,693L638,693.6L637.6,694.1L637.1,694.8L636.7,695.4L636.2,696.1L635.7,696.8L635.2,697.5L634.7,698.2L634.2,699L633.6,699.7L633.1,700.5L632.6,701.3L632.1,702L631.7,702.8L631.2,703.5L630.8,704.3L630.4,705L630,705.7L629.7,706.4L629.4,707.1L629.1,707.8L628.9,708.4L628.7,709.1L628.4,709.7L628.2,710.4L628,711.1L627.9,711.7L627.7,712.4L627.5,713L627.4,713.7L627.3,714.4L627.2,715L627,715.7L627,716.3L626.9,717L626.8,717.7L626.7,718.3L626.7,719L626.7,719.6L626.6,720.2L626.6,720.9L626.6,721.5L626.6,722.2L626.6,722.8L626.6,723.4L626.7,724.1L626.7,724.7L626.8,725.3L626.9,725.9L627.1,726.6L627.2,727.2L627.3,727.8L627.5,728.4L627.7,729L627.8,729.6L628,730.2L628.2,730.8L628.4,731.5L628.6,732.1L628.8,732.7L628.9,733.3L629.1,733.9L629.3,734.4L629.5,735L629.6,735.6L629.8,736.2L629.9,736.8L630,737.4L630.1,738L630.2,738.6L630.3,739.1L630.4,739.7L630.6,740.3L630.7,740.8L630.8,741.4L630.9,741.9L631,742.5L631.1,743L631.2,743.6L631.3,744.1L631.4,744.7L631.4,745.3L631.5,745.8L631.6,746.4L631.6,746.9L631.7,747.5L631.7,748L631.7,748.6L631.7,749.2L631.7,749.7L631.7,750.3L631.7,750.9L631.7,751.5L631.6,752.1L631.6,752.7L631.5,753.3L631.4,753.8L631.3,754.4L631.2,755L631.1,755.6L631,756.2L630.9,756.8L630.8,757.4L630.6,758.1L630.5,758.7L630.4,759.3L630.2,759.9L630,760.5L629.8,761.1L629.6,761.7L629.4,762.4L629.2,763L629,763.6L628.8,764.2L628.5,764.9L628.3,765.5L628,766.1L627.7,766.8L627.4,767.5L627.1,768.2L626.7,769L626.3,769.7L625.9,770.5L625.5,771.3L625,772L624.6,772.8L624.2,773.6L623.7,774.3L623.3,775.1L622.9,775.8L622.5,776.5L622.1,777.2L621.7,777.8L621.3,778.4L620.9,779L620.6,779.6L620.3,780.1L620,780.5L619.8,780.9L619.6,781.3" fill="none" stroke="#fff" stroke-width="5.9" stroke-linecap="round" stroke-linejoin="round"/><path d="M665.2,706.8L665,707.1L664.8,707.4L664.6,707.8L664.4,708.2L664.1,708.7L663.9,709.1L663.6,709.7L663.3,710.2L663,710.8L662.7,711.3L662.3,711.9L662,712.5L661.6,713.2L661.3,713.8L660.9,714.4L660.5,715L660.2,715.6L659.8,716.2L659.4,716.8L659,717.4L658.6,717.9L658.3,718.4L657.9,718.9L657.5,719.4L657.1,719.8L656.7,720.3L656.4,720.7L656,721.2L655.6,721.6L655.2,722L654.8,722.4L654.4,722.8L653.9,723.2L653.5,723.6L653.1,724L652.7,724.4L652.2,724.7L651.8,725.1L651.4,725.5L650.9,725.8L650.5,726.2L650.1,726.5L649.6,726.8L649.2,727.2L648.7,727.5L648.3,727.8L647.8,728.1L647.4,728.4L647,728.7L646.5,729L646,729.2L645.5,729.5L645.1,729.7L644.6,730L644.1,730.2L643.6,730.4L643.1,730.7L642.6,730.9L642.1,731.1L641.6,731.3L641.1,731.5L640.6,731.7L640.1,731.8L639.6,732L639.1,732.2L638.7,732.4L638.2,732.6L637.8,732.8L637.4,732.9L637,733.1L636.6,733.3L636.2,733.5L635.9,733.7L635.5,733.9L635.2,734.1L635,734.2L634.7,734.4L634.5,734.6L634.2,734.7L634,734.9L633.8,735.1L633.6,735.3L633.4,735.4L633.2,735.6L633,735.7L632.8,735.9L632.6,736L632.4,736.2L632.2,736.4L631.9,736.5L631.6,736.7L631.4,736.8L631.1,737L630.7,737.1L630.4,737.3L630,737.4L629.6,737.5L629.1,737.7L628.7,737.8L628.2,737.9L627.7,738L627.2,738.2L626.6,738.3L626.1,738.4L625.5,738.5L624.9,738.6L624.3,738.7L623.7,738.8L623.1,738.9L622.5,739L622,739.1L621.4,739.3L620.8,739.4L620.2,739.5L619.6,739.7L619.1,739.8L618.5,740L618,740.1L617.5,740.3L617,740.5L616.5,740.7L616.1,740.9L615.6,741.1L615.1,741.3L614.7,741.5L614.2,741.7L613.8,741.9L613.4,742.2L612.9,742.4L612.5,742.6L612.1,742.8L611.7,743.1L611.3,743.3L610.9,743.6L610.5,743.9L610.1,744.2L609.7,744.4L609.3,744.7L608.9,745.1L608.5,745.4L608.1,745.7L607.8,746.1L607.4,746.4L607,746.8L606.6,747.2L606.3,747.6L605.9,748L605.5,748.5L605.2,749L604.8,749.5L604.5,750L604.1,750.5L603.8,751L603.4,751.5L603.1,752.1L602.8,752.6L602.4,753.2L602.1,753.7L601.8,754.3L601.5,754.8L601.2,755.3L600.9,755.9L600.6,756.4L600.3,756.9L600,757.4L599.7,757.9L599.4,758.3L599.1,758.8L598.8,759.2L598.5,759.7L598.3,760.1L598,760.6L597.7,761.1L597.4,761.5L597.2,762L596.9,762.4L596.6,762.9L596.4,763.3L596.1,763.7L595.9,764.2L595.6,764.6L595.4,765L595.2,765.3L594.9,765.7L594.7,766.1L594.5,766.4L594.3,766.7L594.2,767L594,767.3L593.9,767.6L593.7,767.8L593.6,768" fill="none" stroke="#fff" stroke-width="5.9" stroke-linecap="round" stroke-linejoin="round"/><path d="M627.3,714.4L627.2,715L627,715.7L627,716.3L626.9,717L626.8,717.7L626.7,718.3L626.7,719L626.7,719.6L626.6,720.2L626.6,720.9L626.6,721.5L626.6,722.2L626.6,722.8L626.6,723.4L626.7,724.1L626.7,724.7L626.8,725.3L626.9,725.9L627.1,726.6L627.2,727.2L627.3,727.8L627.5,728.4L627.7,729L627.8,729.6L628,730.2L628.2,730.8L628.4,731.5L628.6,732.1L628.8,732.7L628.9,733.3L629.1,733.9L629.3,734.4L629.5,735L629.6,735.6L629.8,736.2L629.9,736.8L630,737.4L630.1,738L630.2,738.6L630.3,739.1L630.4,739.7L630.6,740.3L630.7,740.8L630.8,741.4L630.9,741.9L631,742.5L631.1,743L631.2,743.6L631.3,744.1L631.4,744.7L631.4,745.3L631.5,745.8L631.6,746.4L631.6,746.9L631.7,747.5L631.7,748L631.7,748.6L631.7,749.2L631.7,749.7L631.7,750.3L631.7,750.9L631.7,751.5L631.6,752.1L631.6,752.7L631.5,753.3L631.4,753.8L631.3,754.4L631.2,755L631.1,755.6L631,756.2L630.9,756.8L630.8,757.4L630.6,758.1L630.5,758.7L630.4,759.3L630.2,759.9L630,760.5L629.8,761.1L629.6,761.7L629.4,762.4L629.2,763" fill="none" stroke="#202020" stroke-width="5.9" stroke-linejoin="round"/><path d="M648.7,727.5L648.3,727.8L647.8,728.1L647.4,728.4L647,728.7L646.5,729L646,729.2L645.5,729.5L645.1,729.7L644.6,730L644.1,730.2L643.6,730.4L643.1,730.7L642.6,730.9L642.1,731.1L641.6,731.3L641.1,731.5L640.6,731.7L640.1,731.8L639.6,732L639.1,732.2L638.7,732.4L638.2,732.6L637.8,732.8L637.4,732.9L637,733.1L636.6,733.3L636.2,733.5L635.9,733.7L635.5,733.9L635.2,734.1L635,734.2L634.7,734.4L634.5,734.6L634.2,734.7L634,734.9L633.8,735.1L633.6,735.3L633.4,735.4L633.2,735.6L633,735.7L632.8,735.9L632.6,736L632.4,736.2L632.2,736.4L631.9,736.5L631.6,736.7L631.4,736.8L631.1,737L630.7,737.1L630.4,737.3L630,737.4L629.6,737.5L629.1,737.7L628.7,737.8L628.2,737.9L627.7,738L627.2,738.2L626.6,738.3L626.1,738.4L625.5,738.5L624.9,738.6L624.3,738.7L623.7,738.8L623.1,738.9L622.5,739L622,739.1L621.4,739.3L620.8,739.4L620.2,739.5L619.6,739.7L619.1,739.8L618.5,740L618,740.1L617.5,740.3L617,740.5L616.5,740.7L616.1,740.9L615.6,741.1L615.1,741.3L614.7,741.5L614.2,741.7L613.8,741.9L613.4,742.2L612.9,742.4L612.5,742.6L612.1,742.8L611.7,743.1L611.3,743.3L610.9,743.6L610.5,743.9L610.1,744.2L609.7,744.4L609.3,744.7L608.9,745.1L608.5,745.4L608.1,745.7L607.8,746.1L607.4,746.4L607,746.8L606.6,747.2L606.3,747.6" fill="none" stroke="#202020" stroke-width="5.9" stroke-linejoin="round"/><path d="M627.2,715L627,715.7L627,716.3L626.9,717L626.8,717.7L626.7,718.3L626.7,719L626.7,719.6L626.6,720.2L626.6,720.9L626.6,721.5L626.6,722.2L626.6,722.8L626.6,723.4L626.7,724.1L626.7,724.7L626.8,725.3L626.9,725.9L627.1,726.6L627.2,727.2L627.3,727.8L627.5,728.4L627.7,729L627.8,729.6L628,730.2L628.2,730.8L628.4,731.5L628.6,732.1L628.8,732.7L628.9,733.3L629.1,733.9L629.3,734.4L629.5,735L629.6,735.6L629.8,736.2L629.9,736.8L630,737.4L630.1,738L630.2,738.6L630.3,739.1L630.4,739.7L630.6,740.3L630.7,740.8L630.8,741.4L630.9,741.9L631,742.5L631.1,743L631.2,743.6L631.3,744.1L631.4,744.7L631.4,745.3L631.5,745.8L631.6,746.4L631.6,746.9L631.7,747.5L631.7,748L631.7,748.6L631.7,749.2L631.7,749.7L631.7,750.3L631.7,750.9L631.7,751.5L631.6,752.1L631.6,752.7L631.5,753.3L631.4,753.8L631.3,754.4L631.2,755L631.1,755.6L631,756.2L630.9,756.8L630.8,757.4L630.6,758.1L630.5,758.7L630.4,759.3L630.2,759.9L630,760.5L629.8,761.1L629.6,761.7L629.4,762.4" fill="none" stroke="#fdcd4e" stroke-width="5.9" stroke-linejoin="round"/><path d="M648.3,727.8L647.8,728.1L647.4,728.4L647,728.7L646.5,729L646,729.2L645.5,729.5L645.1,729.7L644.6,730L644.1,730.2L643.6,730.4L643.1,730.7L642.6,730.9L642.1,731.1L641.6,731.3L641.1,731.5L640.6,731.7L640.1,731.8L639.6,732L639.1,732.2L638.7,732.4L638.2,732.6L637.8,732.8L637.4,732.9L637,733.1L636.6,733.3L636.2,733.5L635.9,733.7L635.5,733.9L635.2,734.1L635,734.2L634.7,734.4L634.5,734.6L634.2,734.7L634,734.9L633.8,735.1L633.6,735.3L633.4,735.4L633.2,735.6L633,735.7L632.8,735.9L632.6,736L632.4,736.2L632.2,736.4L631.9,736.5L631.6,736.7L631.4,736.8L631.1,737L630.7,737.1L630.4,737.3L630,737.4L629.6,737.5L629.1,737.7L628.7,737.8L628.2,737.9L627.7,738L627.2,738.2L626.6,738.3L626.1,738.4L625.5,738.5L624.9,738.6L624.3,738.7L623.7,738.8L623.1,738.9L622.5,739L622,739.1L621.4,739.3L620.8,739.4L620.2,739.5L619.6,739.7L619.1,739.8L618.5,740L618,740.1L617.5,740.3L617,740.5L616.5,740.7L616.1,740.9L615.6,741.1L615.1,741.3L614.7,741.5L614.2,741.7L613.8,741.9L613.4,742.2L612.9,742.4L612.5,742.6L612.1,742.8L611.7,743.1L611.3,743.3L610.9,743.6L610.5,743.9L610.1,744.2L609.7,744.4L609.3,744.7L608.9,745.1L608.5,745.4L608.1,745.7L607.8,746.1L607.4,746.4L607,746.8L606.6,747.2" fill="none" stroke="#fdcd4e" stroke-width="5.9" stroke-linejoin="round"/>
<circle class="w" cx="633.1" cy="809.8" r="7" />
<circle class="w" cx="614.5" cy="843" r="9" />
<circle class="w" cx="642.7" cy="838.5" r="9" />
<path class="w" d="M596.5,865 H655 L650.7,871 V969.6 H596.5Z"/>
<circle class="w" cx="609.3" cy="884.4" r="6.5" />
<path class="l" d="M633.5,887.8 H650.7"/>
<path class="l" d="M633.5,897.8 H650.7"/>
<path class="l" d="M633.5,907.9 H650.7"/>
<path class="l" d="M633.5,918.4 H650.7"/>
<path class="l" d="M633.5,929.2 H650.7"/>
<path class="l" d="M633.5,939.2 H650.7"/>
<path class="l" d="M633.5,949.7 H650.7"/>
<path class="l" d="M633.5,960 H650.7"/>
<path d="M563.3,919.5L566.3,926.4L573.8,927.1L568.1,932.1L569.8,939.4L563.3,935.6L556.8,939.4L558.5,932.1L552.8,927.1L560.3,926.4Z" fill="#fdcd4e" stroke="#fdcd4e" stroke-width="2.6" stroke-linejoin="round"/>
<path class="w" d="M630.6,1033.5L620.2,1043.1L606.6,1039L603.4,1025.1L613.8,1015.5L627.4,1019.6Z"/><path class="l" d="M624.9,1031.7L618.9,1037.3L611,1034.9L609.1,1026.9L615.1,1021.3L623,1023.7Z"/>
<path class="w" d="M638.4,583.5L628,593.1L614.4,589L611.2,575.1L621.6,565.5L635.2,569.6Z"/><path class="l" d="M632.7,581.7L626.7,587.3L618.8,584.9L616.9,576.9L622.9,571.3L630.8,573.7Z"/>
<path class="l" d="M603.8,989.3 H660"/>
<rect class="w" x="223.5" y="958.6" width="14.5" height="61.2" rx="3"/>
<rect class="w" x="238" y="979.5" width="200" height="20"/>
<path class="w" d="M326.3,961.3 H572 Q576.3,961.3 576.3,965.5 V1012 Q576.3,1016.3 572,1016.3 H326.3Z" fill-opacity="0"/>
<path class="bs" d="M437,961.3 H572 Q576.3,961.3 576.3,965.5 V1012 Q576.3,1016.3 572,1016.3 H437Z"/>
<rect x="480.7" y="985.5" width="4.6" height="30" fill="#fff"/>
<rect x="499" y="985.5" width="4.6" height="30" fill="#fff"/>
<rect x="516" y="985.5" width="4.6" height="30" fill="#fff"/>
<rect x="532.7" y="985.5" width="4.6" height="30" fill="#fff"/>
<rect x="550.2" y="985.5" width="4.6" height="30" fill="#fff"/>
<rect class="w" x="306.4" y="940" width="20" height="98.6" rx="3"/>
<rect class="w" x="368.8" y="968.8" width="9.2" height="40" rx="4.6"/>
<path class="w" d="M576.3,979.5 H594 A9.7,9.7 0 0 1 594,998.9 H576.3Z"/>
<circle class="w" cx="270" cy="1034" r="14.3" />
<path class="d" d="M348,1043 H568"/>
<path class="l" d="M562,1034 L576,1043 L562,1052 M566,1043 H576"/>
<path class="w" d="M726.2,448.8C725.5,448.8 724.9,448.8 724.2,450.4C723.5,451.9 722.8,455.2 722.1,458.1C721.5,461.1 720.8,465.1 720.3,468.1C719.8,471 719.5,474.4 718.9,475.8C718.3,477.2 718.6,477.5 716.7,476.7C714.7,475.9 710.2,472.7 707.1,470.8C704,468.9 700.4,466.8 698.1,465.2C695.7,463.6 694,461.7 692.8,461.4C691.6,461 690.9,462.3 691,463.1C691,463.9 691.6,464.5 693.1,466.3C694.5,468 697.8,471 699.9,473.5C701.9,476.1 704.1,479.3 705.3,481.7C706.6,484.1 707.2,486.7 707.3,487.9C707.4,489 707.3,488.7 705.8,488.7C704.2,488.7 700.4,487.9 698.1,488C695.7,488.2 693.4,488.7 691.7,489.6C690,490.5 687.9,492.5 687.6,493.5C687.3,494.5 688.9,495 690.1,495.5C691.3,496 693.1,495.5 694.9,496.4C696.7,497.3 698.8,499.2 700.8,500.8C702.8,502.3 705.9,504.5 706.9,505.5C708,506.5 707.7,505.7 706.9,506.7C706.2,507.6 703.8,509 702.6,510.9C701.3,512.8 700.1,515.5 699.4,518C698.7,520.5 698.5,524.3 698.5,526.2C698.6,528 699,528.8 699.7,529.1C700.3,529.3 700.7,528.7 702.4,527.8C704.1,526.9 707.6,524.7 709.9,523.4C712.2,522.1 714.2,521 716.2,520C718.2,519 720.7,517.8 721.8,517.6C723,517.4 722.4,517.6 723,518.7C723.6,519.8 724.3,522 725.3,524.3C726.3,526.6 727.8,530.4 728.9,532.5C730,534.7 731.1,536.8 732.1,537.2C733,537.7 733.9,536.8 734.5,535.2C735.1,533.7 735.2,530.4 735.7,528C736.2,525.6 736.9,522.8 737.5,520.7C738.1,518.6 738.8,516.2 739.3,515.3C739.9,514.3 739.6,514.6 740.9,514.9C742.2,515.2 745.1,516.1 747.1,517.1C749,518.1 750.7,519.3 752.5,520.7C754.3,522.1 756.9,524.8 758.1,525.4C759.3,526 759.6,525.1 759.8,524.3C759.9,523.6 759.5,522.5 758.9,520.7C758.2,518.9 757.2,515.7 756.1,513.5C755.1,511.2 753.6,508.8 752.5,507.1C751.4,505.4 750,504.4 749.6,503.5C749.2,502.6 749.3,502.4 750.2,501.8C751.2,501.2 753.3,500.3 755.2,499.8C757.1,499.4 759.4,499.3 761.6,499.1C763.7,499 766.6,499.3 768.1,498.9C769.7,498.6 771,497.9 770.8,497.1C770.6,496.4 768.9,495.5 767,494.4C765.2,493.3 762.2,491.5 759.8,490.3C757.3,489.1 754.5,487.9 752.5,487.1C750.5,486.4 748.5,486.3 747.8,485.9C747,485.4 747.5,485.4 748,484.6C748.4,483.8 749.5,482 750.7,480.8C751.9,479.5 753.9,478.2 755.2,477.2C756.6,476.1 757.9,475.6 758.7,474.4C759.4,473.3 760.3,470.6 759.8,470.1C759.2,469.6 757.3,471.3 755.2,471.3C753.1,471.2 749.3,469.7 747.1,469.9C744.8,470.1 743.5,471.3 741.6,472.2C739.7,473.1 737,474.9 735.7,475.3C734.5,475.8 734.9,475.8 734.2,474.6C733.5,473.4 732.4,470.7 731.6,468.1C730.8,465.5 729.9,461.9 729.4,459C728.8,456.1 729,452.5 728.5,450.8C727.9,449.1 726.9,448.9 726.2,448.8Z"/><circle class="w" cx="729.4" cy="486.2" r="5" /><circle class="w" cx="717.4" cy="499.4" r="5" /><circle class="w" cx="735.4" cy="503" r="5.5" />
<path d="M800.3,442.3L816.3,458.3L816.3,473.3L807.5,464.6L807.5,498.6L793,498.6L793,464.6L784.3,473.3L784.3,458.3Z" fill="#fdcd4e"/>
<path class="d" d="M793.9,500 V545 M806.6,500 V545" stroke-dasharray="7 4.5"/>
<path class="w" d="M851.3,463.6L853.9,452.2L864.7,452.2L867.3,463.6A29.8,29.8 0 0 1 874,466.4L883.8,460.1L891.5,467.8L885.2,477.6A29.8,29.8 0 0 1 888,484.3L899.4,486.9L899.4,497.7L888,500.3A29.8,29.8 0 0 1 885.2,507L891.5,516.8L883.8,524.5L874,518.2A29.8,29.8 0 0 1 867.3,521L864.7,532.4L853.9,532.4L851.3,521A29.8,29.8 0 0 1 844.6,518.2L834.8,524.5L827.1,516.8L833.4,507A29.8,29.8 0 0 1 830.6,500.3L819.2,497.7L819.2,486.9L830.6,484.3A29.8,29.8 0 0 1 833.4,477.6L827.1,467.8L834.8,460.1L844.6,466.4A29.8,29.8 0 0 1 851.3,463.6Z"/>
<path class="l" d="M866.6,494.4 L876.8,494.4 A17.6,17.6 0 0 1 861.4,509.8 L861.4,499.6 A7.6,7.6 0 0 0 866.6,494.4Z" stroke-width="1.9"/>
<path class="l" d="M852,494.4 L841.8,494.4 A17.6,17.6 0 0 0 857.2,509.8 L857.2,499.6 A7.6,7.6 0 0 1 852,494.4Z" stroke-width="1.9"/>
<path class="l" d="M852,490.2 L841.8,490.2 A17.6,17.6 0 0 1 857.2,474.8 L857.2,485 A7.6,7.6 0 0 0 852,490.2Z" stroke-width="1.9"/>
<path class="l" d="M866.6,490.2 L876.8,490.2 A17.6,17.6 0 0 0 861.4,474.8 L861.4,485 A7.6,7.6 0 0 1 866.6,490.2Z" stroke-width="1.9"/>
<circle cx="859.3" cy="492.3" r="6" fill="#4dcfcd"/>
<path d="M920.3,439.1L936.3,455.1L936.3,470.1L927.5,461.4L927.5,495.4L913,495.4L913,461.4L904.3,470.1L904.3,455.1Z" fill="#fdcd4e"/>
<path class="d" d="M914.4,497 V541 M926.7,497 V541" stroke-dasharray="7 4.5"/>
<path class="w" d="M970.5,456.7L960.1,466.3L946.5,462.2L943.3,448.3L953.7,438.7L967.3,442.8Z"/><path class="l" d="M964.8,454.9L958.8,460.5L950.9,458.1L949,450.1L955,444.5L962.9,446.9Z"/>
<circle class="w" cx="1050.8" cy="533.2" r="94.3" />
<circle class="w" cx="1050.8" cy="533.2" r="82.6" />
<circle cx="1051.7" cy="531" r="28.1" fill="none" stroke="#4dcfcd" stroke-width="3.4"/>
<g transform="translate(1051.7 531)" fill="#fdcd4e"><path d="M-20.3,-30.5 A36.7,36.7 0 1 0 20.3,-30.5 A29.4,34 0 1 1 -20.3,-30.5Z" transform="translate(0 -38.4)"/><path d="M-20.3,-30.5 A36.7,36.7 0 1 0 20.3,-30.5 A29.4,34 0 1 1 -20.3,-30.5Z" transform="translate(-33.3 19.2) scale(1 -1)"/><path d="M-20.3,-30.5 A36.7,36.7 0 1 0 20.3,-30.5 A29.4,34 0 1 1 -20.3,-30.5Z" transform="translate(33.3 19.2) scale(1 -1)"/><ellipse cx="0" cy="-1.2" rx="3.1" ry="4.6" fill="#fff"/><path d="M0,0 V-11" stroke="#fff" stroke-width="2.4" transform="rotate(0)"/><path d="M0,0 V-11" stroke="#fff" stroke-width="2.4" transform="rotate(120)"/><path d="M0,0 V-11" stroke="#fff" stroke-width="2.4" transform="rotate(240)"/></g>
<circle class="w" cx="1152.3" cy="460.1" r="13.5" />
<ellipse cx="1252.7" cy="529.7" rx="100" ry="31.7" fill="none" stroke="#202020" stroke-width="1.8" transform="rotate(0 1252.7 529.7)"/>
<ellipse cx="1252.7" cy="529.7" rx="100" ry="31.7" fill="none" stroke="#202020" stroke-width="1.8" transform="rotate(60 1252.7 529.7)"/>
<ellipse cx="1252.7" cy="529.7" rx="100" ry="31.7" fill="none" stroke="#202020" stroke-width="1.8" transform="rotate(-60 1252.7 529.7)"/>
<circle cx="1252.7" cy="529.7" r="16.3" fill="#4dcfcd"/>
<circle cx="1246.2" cy="524.3" r="3.3" fill="#fff"/>
<circle cx="1225.1" cy="449.2" r="10.5" fill="#fdcd4e"/>
<circle cx="1221.9" cy="446.1" r="2.3" fill="#fff3c9"/>
<circle cx="1195" cy="578.2" r="11" fill="#fdcd4e"/>
<circle cx="1191.7" cy="574.9" r="2.4" fill="#fff3c9"/>
<circle cx="1331" cy="545.5" r="11" fill="#fdcd4e"/>
<circle cx="1327.7" cy="542.2" r="2.4" fill="#fff3c9"/>
<path class="w" d="M1363.3,436.1C1362.8,436 1362.3,436.1 1361.8,437.3C1361.2,438.5 1360.6,441.1 1360.1,443.5C1359.6,445.8 1359.1,449.1 1358.6,451.4C1358.2,453.8 1358,456.5 1357.5,457.6C1357.1,458.8 1357.3,459 1355.7,458.3C1354.2,457.7 1350.6,455.2 1348.1,453.6C1345.6,452.1 1342.8,450.4 1340.8,449.1C1338.9,447.9 1337.6,446.4 1336.6,446.1C1335.7,445.8 1335.1,446.8 1335.2,447.5C1335.2,448.1 1335.7,448.6 1336.9,450C1338,451.4 1340.7,453.7 1342.3,455.8C1343.9,457.9 1345.7,460.4 1346.7,462.3C1347.6,464.2 1348.2,466.3 1348.2,467.3C1348.3,468.2 1348.2,467.9 1347,467.9C1345.8,468 1342.7,467.3 1340.8,467.4C1339,467.5 1337.2,467.9 1335.8,468.7C1334.4,469.4 1332.7,471 1332.5,471.8C1332.3,472.6 1333.5,473 1334.5,473.4C1335.4,473.8 1336.9,473.4 1338.3,474.1C1339.7,474.8 1341.4,476.4 1343,477.6C1344.6,478.8 1347.1,480.6 1348,481.4C1348.8,482.1 1348.5,481.6 1348,482.3C1347.4,483 1345.5,484.2 1344.5,485.7C1343.5,487.2 1342.5,489.3 1341.9,491.4C1341.4,493.4 1341.2,496.4 1341.2,497.9C1341.2,499.4 1341.6,500 1342.2,500.2C1342.7,500.4 1343,500 1344.3,499.2C1345.7,498.5 1348.4,496.8 1350.3,495.7C1352.1,494.7 1353.8,493.7 1355.4,493C1357,492.2 1359,491.3 1359.9,491.1C1360.8,490.9 1360.3,491.1 1360.8,492C1361.3,492.9 1361.8,494.6 1362.6,496.5C1363.4,498.3 1364.6,501.3 1365.5,503C1366.4,504.7 1367.3,506.4 1368.1,506.8C1368.8,507.1 1369.5,506.4 1370,505.2C1370.5,503.9 1370.6,501.3 1371,499.4C1371.4,497.4 1371.9,495.2 1372.4,493.6C1372.9,491.9 1373.4,490 1373.9,489.2C1374.3,488.4 1374.1,488.7 1375.1,488.9C1376.1,489.1 1378.5,489.9 1380,490.6C1381.6,491.4 1382.9,492.4 1384.4,493.6C1385.9,494.7 1387.9,496.8 1388.9,497.3C1389.9,497.8 1390.1,497.1 1390.2,496.5C1390.3,495.8 1390,495 1389.5,493.6C1389,492.1 1388.2,489.6 1387.3,487.7C1386.5,485.9 1385.3,484 1384.4,482.7C1383.5,481.3 1382.4,480.5 1382.1,479.8C1381.8,479.1 1381.8,478.9 1382.6,478.5C1383.3,478 1385.1,477.2 1386.6,476.9C1388.1,476.5 1389.9,476.4 1391.7,476.3C1393.4,476.2 1395.7,476.4 1396.9,476.1C1398.1,475.9 1399.2,475.3 1399.1,474.7C1398.9,474.1 1397.5,473.4 1396,472.5C1394.5,471.6 1392.1,470.2 1390.2,469.2C1388.3,468.3 1386,467.3 1384.4,466.7C1382.8,466.1 1381.2,466 1380.6,465.7C1380,465.3 1380.4,465.3 1380.8,464.7C1381.2,464 1382,462.6 1382.9,461.6C1383.9,460.6 1385.5,459.6 1386.6,458.7C1387.6,457.9 1388.7,457.5 1389.3,456.5C1389.9,455.6 1390.7,453.5 1390.2,453C1389.7,452.6 1388.3,454 1386.6,454C1384.9,454 1381.9,452.8 1380,452.9C1378.2,453 1377.2,454 1375.7,454.7C1374.2,455.4 1372,456.9 1371,457.3C1370,457.6 1370.3,457.6 1369.7,456.7C1369.2,455.7 1368.3,453.5 1367.7,451.4C1367.1,449.4 1366.3,446.5 1365.9,444.2C1365.5,441.9 1365.6,439 1365.2,437.7C1364.7,436.3 1363.9,436.1 1363.3,436.1Z"/><circle class="w" cx="1365.9" cy="465.9" r="4" /><circle class="w" cx="1356.3" cy="476.5" r="4" /><circle class="w" cx="1370.7" cy="479.4" r="4.4" />
<path class="w" d="M1352.8,591.7L1342.4,601.3L1328.8,597.2L1325.6,583.3L1336,573.7L1349.6,577.8Z"/><path class="l" d="M1347.1,589.9L1341.1,595.5L1333.2,593.1L1331.3,585.1L1337.3,579.5L1345.2,581.9Z"/>
<circle class="w" cx="1417.8" cy="455.5" r="5" />
<circle class="w" cx="1430.2" cy="445.7" r="5.5" />
<circle class="w" cx="1430.8" cy="463.6" r="3.5" />
<path class="w" d="M1412,483 V531.3 A60,60 0 1 0 1439,531.3 V483Z"/>
<rect class="w" x="1405" y="471.3" width="40.3" height="11.7"/>
<path class="l" d="M1371,564 Q1380,562.5 1388,565.5 Q1397,569 1406,565.5 Q1416,562 1426,565.5 Q1436,569 1446,566.5 Q1456,564 1465,567 Q1473,568 1480,565.5"/>
<circle class="w" cx="1397" cy="549.5" r="5.5" />
<circle cx="1385.8" cy="582.6" r="6.5" fill="#4dcfcd"/>
<circle cx="1419" cy="591" r="9" fill="#2ea1d3"/>
<circle cx="1465.1" cy="586.4" r="10.5" fill="#2ea1d3"/>
<circle cx="1381.6" cy="605.5" r="4" fill="#2ea1d3"/>
<circle cx="1441.1" cy="607.4" r="4" fill="#4dcfcd"/>
<circle cx="1402.6" cy="618.3" r="6" fill="#4dcfcd"/>
<circle cx="1458.1" cy="620.6" r="4.5" fill="#4dcfcd"/>
<circle cx="1430.2" cy="631.6" r="6.5" fill="#2ea1d3"/>
<path class="w" d="M1507.4,440.3C1513.2,440.4 1518.7,441.1 1524.3,443.5C1529.9,445.9 1535.5,449.5 1541.1,454.7C1546.7,459.9 1552.8,467.8 1558,474.9C1563.2,482 1568.7,490.3 1572.6,497.4C1576.5,504.5 1579.6,512 1581.6,517.6C1583.6,523.2 1584.8,527 1584.4,531.1C1584,535.2 1581.8,539.4 1579.3,542.4C1576.8,545.4 1572.8,547.9 1569.2,549.1C1565.7,550.3 1562.1,550.8 1558,549.7C1553.9,548.6 1549.2,545.5 1544.5,542.4C1539.8,539.3 1535.2,534.9 1529.9,531.1C1524.7,527.4 1519,522.9 1513,519.9C1507,516.9 1499.9,515.5 1493.9,513.1C1487.9,510.7 1482,508.5 1477.1,505.3C1472.2,502.1 1467.8,498.3 1464.7,494C1461.6,489.7 1458.9,484.4 1458.5,479.4C1458.1,474.3 1460,468.4 1462.5,463.7C1465,459 1469.2,454.8 1473.7,451.3C1478.2,447.8 1483.8,444.7 1489.4,442.9C1495,441.1 1501.6,440.2 1507.4,440.3Z"/>
<path class="l" d="M1507.2,449.3C1512,449.4 1516.1,449.8 1520.8,451.8C1525.4,453.8 1530,456.5 1535,461.3C1540,466 1545.8,473.5 1550.8,480.2C1555.7,487 1561,495 1564.7,501.8C1568.4,508.5 1571.3,515.8 1573.1,520.6C1574.9,525.3 1575.6,527.6 1575.4,530.3C1575.3,532.9 1573.9,534.9 1572.4,536.6C1570.9,538.3 1568.3,539.8 1566.3,540.6C1564.3,541.3 1563.2,542 1560.4,541C1557.6,540.1 1553.7,537.8 1549.5,534.9C1545.3,532 1540.5,527.6 1535.1,523.8C1529.7,519.9 1523.3,515 1517,511.9C1510.7,508.7 1503.1,507.1 1497.3,504.8C1491.5,502.4 1486.2,500.4 1482,497.8C1477.8,495.1 1474.4,491.9 1472,488.8C1469.6,485.6 1467.7,482.2 1467.5,478.7C1467.2,475.3 1468.5,471.4 1470.4,468C1472.4,464.6 1475.6,461.2 1479.2,458.4C1482.8,455.7 1487.5,453 1492.2,451.5C1496.9,449.9 1502.5,449.2 1507.2,449.3Z"/>
<ellipse cx="1502.9" cy="468.8" rx="6.7" ry="4.7" fill="#4dcfcd" transform="rotate(35 1502.9 468.8)"/>
<ellipse cx="1484.7" cy="486.7" rx="7.9" ry="4.3" fill="#4dcfcd" transform="rotate(35 1484.7 486.7)"/>
<ellipse cx="1499" cy="482.8" rx="5" ry="2.6" fill="#4dcfcd" transform="rotate(38 1499 482.8)"/>
<ellipse cx="1529.9" cy="477" rx="4" ry="2.4" fill="#4dcfcd" transform="rotate(35 1529.9 477)"/>
<ellipse cx="1523.4" cy="495.2" rx="9.5" ry="6" fill="#4dcfcd" transform="rotate(35 1523.4 495.2)"/>
<ellipse cx="1506.5" cy="502.5" rx="4.6" ry="3.3" fill="#4dcfcd" transform="rotate(35 1506.5 502.5)"/>
<ellipse cx="1549.9" cy="498.9" rx="2.9" ry="2.9" fill="#4dcfcd" transform="rotate(0 1549.9 498.9)"/>
<ellipse cx="1538.3" cy="516.5" rx="4.3" ry="2.3" fill="#4dcfcd" transform="rotate(40 1538.3 516.5)"/>
<ellipse cx="1553.5" cy="517.4" rx="6.3" ry="4.3" fill="#4dcfcd" transform="rotate(35 1553.5 517.4)"/>
<circle class="w" cx="1572.5" cy="452.7" r="13" />
<path class="w" d="M923.4,680.7L913,690.3L899.4,686.2L896.2,672.3L906.6,662.7L920.2,666.8Z"/><path class="l" d="M917.7,678.9L911.7,684.5L903.8,682.1L901.9,674.1L907.9,668.5L915.8,670.9Z"/>
<path d="M943.2,629.8L943.3,630.2L943.3,630.7L943.4,631.3L943.5,631.9L943.6,632.6L943.7,633.3L943.8,634.1L943.9,634.9L944,635.8L944.1,636.6L944.2,637.5L944.3,638.4L944.4,639.4L944.6,640.3L944.7,641.2L944.9,642.2L945,643.1L945.2,644.1L945.3,645L945.5,645.9L945.7,646.8L945.9,647.6L946.1,648.4L946.3,649.2L946.5,650L946.7,650.7L947,651.4L947.2,652.2L947.4,652.9L947.6,653.6L947.9,654.4L948.1,655.1L948.4,655.8L948.7,656.5L948.9,657.2L949.2,657.9L949.5,658.6L949.8,659.3L950.1,660L950.4,660.7L950.7,661.4L951.1,662.1L951.4,662.8L951.8,663.5L952.1,664.2L952.5,664.9L952.9,665.6L953.3,666.3L953.7,667L954.1,667.7L954.6,668.4L955.1,669.2L955.5,669.9L956,670.6L956.5,671.3L957.1,672.1L957.6,672.8L958.1,673.5L958.7,674.2L959.2,674.9L959.8,675.7L960.3,676.4L960.9,677.1L961.4,677.8L962,678.5L962.6,679.2L963.1,679.9L963.7,680.6L964.2,681.3L964.7,682L965.3,682.7L965.8,683.4L966.3,684.1L966.9,684.7L967.4,685.4L967.9,686.1L968.5,686.7L969,687.3L969.6,688L970.1,688.6L970.7,689.2L971.2,689.8L971.8,690.5L972.3,691.1L972.9,691.7L973.4,692.4L973.9,693L974.5,693.6L975,694.3L975.5,694.9L976,695.6L976.4,696.2L976.9,696.9L977.4,697.6L977.8,698.3L978.2,699L978.6,699.7L979,700.4L979.4,701.2L979.7,701.9L980.1,702.6L980.4,703.4L980.7,704.1L981,704.9L981.4,705.7L981.7,706.4L981.9,707.2L982.2,708L982.5,708.8L982.8,709.5L983,710.3L983.3,711.1L983.5,711.9L983.8,712.7L984,713.6L984.3,714.4L984.5,715.2L984.7,716L985,716.9L985.2,717.7L985.4,718.6L985.6,719.5L985.9,720.4L986.1,721.4L986.3,722.4L986.5,723.4L986.7,724.5L986.9,725.5L987.1,726.6L987.2,727.6L987.4,728.7L987.6,729.7L987.8,730.7L987.9,731.7L988.1,732.7L988.2,733.7L988.3,734.6L988.5,735.4L988.6,736.2L988.7,737L988.8,737.7L988.9,738.3L989,738.9L989.1,739.4" fill="none" stroke="#202020" stroke-width="11.5" stroke-linecap="round" stroke-linejoin="round"/><path d="M980.6,627.4L980.6,627.9L980.5,628.5L980.5,629.1L980.5,629.8L980.4,630.6L980.4,631.4L980.3,632.3L980.3,633.2L980.3,634.1L980.2,635.1L980.2,636.1L980.1,637.1L980,638.2L980,639.2L979.9,640.3L979.8,641.4L979.7,642.4L979.7,643.5L979.6,644.5L979.5,645.5L979.4,646.5L979.2,647.4L979.1,648.3L979,649.2L978.9,650L978.7,650.9L978.6,651.7L978.4,652.5L978.3,653.4L978.1,654.2L978,655L977.8,655.8L977.6,656.6L977.5,657.4L977.3,658.2L977.1,658.9L976.9,659.7L976.7,660.5L976.5,661.3L976.3,662L976,662.8L975.8,663.5L975.6,664.3L975.3,665L975.1,665.7L974.8,666.5L974.6,667.2L974.3,667.9L974,668.6L973.7,669.3L973.4,670L973.1,670.7L972.8,671.3L972.5,672L972.1,672.7L971.8,673.3L971.5,673.9L971.1,674.6L970.8,675.2L970.4,675.8L970,676.5L969.6,677.1L969.3,677.7L968.9,678.3L968.5,679L968.1,679.6L967.7,680.2L967.4,680.8L967,681.5L966.6,682.1L966.2,682.8L965.8,683.4L965.4,684L965,684.7L964.6,685.3L964.2,686L963.7,686.6L963.3,687.2L962.8,687.8L962.4,688.5L961.9,689.1L961.5,689.7L961,690.4L960.6,691L960.1,691.6L959.7,692.3L959.2,692.9L958.8,693.6L958.4,694.2L957.9,694.9L957.5,695.5L957.1,696.2L956.8,696.9L956.4,697.6L956,698.3L955.7,699L955.4,699.7L955.1,700.4L954.7,701.2L954.4,701.9L954.1,702.6L953.9,703.3L953.6,704.1L953.3,704.8L953,705.5L952.8,706.3L952.5,707.1L952.3,707.8L952,708.6L951.8,709.4L951.6,710.2L951.4,711L951.2,711.8L951,712.6L950.9,713.4L950.7,714.2L950.6,715.1L950.4,715.9L950.3,716.8L950.2,717.7L950.1,718.6L950,719.6L950,720.6L950,721.7L950,722.8L950,723.9L950,725.1L950,726.2L950.1,727.4L950.1,728.6L950.2,729.8L950.3,730.9L950.3,732.1L950.4,733.2L950.5,734.3L950.6,735.4L950.6,736.4L950.7,737.3L950.8,738.3L950.8,739.1L950.9,739.9L950.9,740.6L951,741.3L951,741.8" fill="none" stroke="#202020" stroke-width="11.5" stroke-linecap="round" stroke-linejoin="round"/><path d="M943.2,629.8L943.3,630.2L943.3,630.7L943.4,631.3L943.5,631.9L943.6,632.6L943.7,633.3L943.8,634.1L943.9,634.9L944,635.8L944.1,636.6L944.2,637.5L944.3,638.4L944.4,639.4L944.6,640.3L944.7,641.2L944.9,642.2L945,643.1L945.2,644.1L945.3,645L945.5,645.9L945.7,646.8L945.9,647.6L946.1,648.4L946.3,649.2L946.5,650L946.7,650.7L947,651.4L947.2,652.2L947.4,652.9L947.6,653.6L947.9,654.4L948.1,655.1L948.4,655.8L948.7,656.5L948.9,657.2L949.2,657.9L949.5,658.6L949.8,659.3L950.1,660L950.4,660.7L950.7,661.4L951.1,662.1L951.4,662.8L951.8,663.5L952.1,664.2L952.5,664.9L952.9,665.6L953.3,666.3L953.7,667L954.1,667.7L954.6,668.4L955.1,669.2L955.5,669.9L956,670.6L956.5,671.3L957.1,672.1L957.6,672.8L958.1,673.5L958.7,674.2L959.2,674.9L959.8,675.7L960.3,676.4L960.9,677.1L961.4,677.8L962,678.5L962.6,679.2L963.1,679.9L963.7,680.6L964.2,681.3L964.7,682L965.3,682.7L965.8,683.4L966.3,684.1L966.9,684.7L967.4,685.4L967.9,686.1L968.5,686.7L969,687.3L969.6,688L970.1,688.6L970.7,689.2L971.2,689.8L971.8,690.5L972.3,691.1L972.9,691.7L973.4,692.4L973.9,693L974.5,693.6L975,694.3L975.5,694.9L976,695.6L976.4,696.2L976.9,696.9L977.4,697.6L977.8,698.3L978.2,699L978.6,699.7L979,700.4L979.4,701.2L979.7,701.9L980.1,702.6L980.4,703.4L980.7,704.1L981,704.9L981.4,705.7L981.7,706.4L981.9,707.2L982.2,708L982.5,708.8L982.8,709.5L983,710.3L983.3,711.1L983.5,711.9L983.8,712.7L984,713.6L984.3,714.4L984.5,715.2L984.7,716L985,716.9L985.2,717.7L985.4,718.6L985.6,719.5L985.9,720.4L986.1,721.4L986.3,722.4L986.5,723.4L986.7,724.5L986.9,725.5L987.1,726.6L987.2,727.6L987.4,728.7L987.6,729.7L987.8,730.7L987.9,731.7L988.1,732.7L988.2,733.7L988.3,734.6L988.5,735.4L988.6,736.2L988.7,737L988.8,737.7L988.9,738.3L989,738.9L989.1,739.4" fill="none" stroke="#fff" stroke-width="7.7" stroke-linecap="round" stroke-linejoin="round"/><path d="M980.6,627.4L980.6,627.9L980.5,628.5L980.5,629.1L980.5,629.8L980.4,630.6L980.4,631.4L980.3,632.3L980.3,633.2L980.3,634.1L980.2,635.1L980.2,636.1L980.1,637.1L980,638.2L980,639.2L979.9,640.3L979.8,641.4L979.7,642.4L979.7,643.5L979.6,644.5L979.5,645.5L979.4,646.5L979.2,647.4L979.1,648.3L979,649.2L978.9,650L978.7,650.9L978.6,651.7L978.4,652.5L978.3,653.4L978.1,654.2L978,655L977.8,655.8L977.6,656.6L977.5,657.4L977.3,658.2L977.1,658.9L976.9,659.7L976.7,660.5L976.5,661.3L976.3,662L976,662.8L975.8,663.5L975.6,664.3L975.3,665L975.1,665.7L974.8,666.5L974.6,667.2L974.3,667.9L974,668.6L973.7,669.3L973.4,670L973.1,670.7L972.8,671.3L972.5,672L972.1,672.7L971.8,673.3L971.5,673.9L971.1,674.6L970.8,675.2L970.4,675.8L970,676.5L969.6,677.1L969.3,677.7L968.9,678.3L968.5,679L968.1,679.6L967.7,680.2L967.4,680.8L967,681.5L966.6,682.1L966.2,682.8L965.8,683.4L965.4,684L965,684.7L964.6,685.3L964.2,686L963.7,686.6L963.3,687.2L962.8,687.8L962.4,688.5L961.9,689.1L961.5,689.7L961,690.4L960.6,691L960.1,691.6L959.7,692.3L959.2,692.9L958.8,693.6L958.4,694.2L957.9,694.9L957.5,695.5L957.1,696.2L956.8,696.9L956.4,697.6L956,698.3L955.7,699L955.4,699.7L955.1,700.4L954.7,701.2L954.4,701.9L954.1,702.6L953.9,703.3L953.6,704.1L953.3,704.8L953,705.5L952.8,706.3L952.5,707.1L952.3,707.8L952,708.6L951.8,709.4L951.6,710.2L951.4,711L951.2,711.8L951,712.6L950.9,713.4L950.7,714.2L950.6,715.1L950.4,715.9L950.3,716.8L950.2,717.7L950.1,718.6L950,719.6L950,720.6L950,721.7L950,722.8L950,723.9L950,725.1L950,726.2L950.1,727.4L950.1,728.6L950.2,729.8L950.3,730.9L950.3,732.1L950.4,733.2L950.5,734.3L950.6,735.4L950.6,736.4L950.7,737.3L950.8,738.3L950.8,739.1L950.9,739.9L950.9,740.6L951,741.3L951,741.8" fill="none" stroke="#fff" stroke-width="7.7" stroke-linecap="round" stroke-linejoin="round"/><path d="M950.7,661.4L951.1,662.1L951.4,662.8L951.8,663.5L952.1,664.2L952.5,664.9L952.9,665.6L953.3,666.3L953.7,667L954.1,667.7L954.6,668.4L955.1,669.2L955.5,669.9L956,670.6L956.5,671.3L957.1,672.1L957.6,672.8L958.1,673.5L958.7,674.2L959.2,674.9L959.8,675.7L960.3,676.4L960.9,677.1L961.4,677.8L962,678.5L962.6,679.2L963.1,679.9L963.7,680.6L964.2,681.3L964.7,682L965.3,682.7L965.8,683.4L966.3,684.1L966.9,684.7L967.4,685.4L967.9,686.1L968.5,686.7L969,687.3L969.6,688L970.1,688.6L970.7,689.2L971.2,689.8L971.8,690.5L972.3,691.1L972.9,691.7L973.4,692.4L973.9,693L974.5,693.6L975,694.3L975.5,694.9L976,695.6L976.4,696.2L976.9,696.9L977.4,697.6L977.8,698.3L978.2,699L978.6,699.7L979,700.4L979.4,701.2L979.7,701.9L980.1,702.6L980.4,703.4L980.7,704.1L981,704.9L981.4,705.7L981.7,706.4L981.9,707.2L982.2,708L982.5,708.8L982.8,709.5L983,710.3L983.3,711.1L983.5,711.9" fill="none" stroke="#202020" stroke-width="7.7" stroke-linejoin="round"/><path d="M976.9,659.7L976.7,660.5L976.5,661.3L976.3,662L976,662.8L975.8,663.5L975.6,664.3L975.3,665L975.1,665.7L974.8,666.5L974.6,667.2L974.3,667.9L974,668.6L973.7,669.3L973.4,670L973.1,670.7L972.8,671.3L972.5,672L972.1,672.7L971.8,673.3L971.5,673.9L971.1,674.6L970.8,675.2L970.4,675.8L970,676.5L969.6,677.1L969.3,677.7L968.9,678.3L968.5,679L968.1,679.6L967.7,680.2L967.4,680.8L967,681.5L966.6,682.1L966.2,682.8L965.8,683.4L965.4,684L965,684.7L964.6,685.3L964.2,686L963.7,686.6L963.3,687.2L962.8,687.8L962.4,688.5L961.9,689.1L961.5,689.7L961,690.4L960.6,691L960.1,691.6L959.7,692.3L959.2,692.9L958.8,693.6L958.4,694.2L957.9,694.9L957.5,695.5L957.1,696.2L956.8,696.9L956.4,697.6L956,698.3L955.7,699L955.4,699.7L955.1,700.4L954.7,701.2L954.4,701.9L954.1,702.6L953.9,703.3L953.6,704.1L953.3,704.8L953,705.5L952.8,706.3L952.5,707.1L952.3,707.8L952,708.6L951.8,709.4L951.6,710.2L951.4,711L951.2,711.8L951,712.6" fill="none" stroke="#202020" stroke-width="7.7" stroke-linejoin="round"/><path d="M951.1,662.1L951.4,662.8L951.8,663.5L952.1,664.2L952.5,664.9L952.9,665.6L953.3,666.3L953.7,667L954.1,667.7L954.6,668.4L955.1,669.2L955.5,669.9L956,670.6L956.5,671.3L957.1,672.1L957.6,672.8L958.1,673.5L958.7,674.2L959.2,674.9L959.8,675.7L960.3,676.4L960.9,677.1L961.4,677.8L962,678.5L962.6,679.2L963.1,679.9L963.7,680.6L964.2,681.3L964.7,682L965.3,682.7L965.8,683.4L966.3,684.1L966.9,684.7L967.4,685.4L967.9,686.1L968.5,686.7L969,687.3L969.6,688L970.1,688.6L970.7,689.2L971.2,689.8L971.8,690.5L972.3,691.1L972.9,691.7L973.4,692.4L973.9,693L974.5,693.6L975,694.3L975.5,694.9L976,695.6L976.4,696.2L976.9,696.9L977.4,697.6L977.8,698.3L978.2,699L978.6,699.7L979,700.4L979.4,701.2L979.7,701.9L980.1,702.6L980.4,703.4L980.7,704.1L981,704.9L981.4,705.7L981.7,706.4L981.9,707.2L982.2,708L982.5,708.8L982.8,709.5L983,710.3L983.3,711.1" fill="none" stroke="#fdcd4e" stroke-width="7.7" stroke-linejoin="round"/><path d="M976.7,660.5L976.5,661.3L976.3,662L976,662.8L975.8,663.5L975.6,664.3L975.3,665L975.1,665.7L974.8,666.5L974.6,667.2L974.3,667.9L974,668.6L973.7,669.3L973.4,670L973.1,670.7L972.8,671.3L972.5,672L972.1,672.7L971.8,673.3L971.5,673.9L971.1,674.6L970.8,675.2L970.4,675.8L970,676.5L969.6,677.1L969.3,677.7L968.9,678.3L968.5,679L968.1,679.6L967.7,680.2L967.4,680.8L967,681.5L966.6,682.1L966.2,682.8L965.8,683.4L965.4,684L965,684.7L964.6,685.3L964.2,686L963.7,686.6L963.3,687.2L962.8,687.8L962.4,688.5L961.9,689.1L961.5,689.7L961,690.4L960.6,691L960.1,691.6L959.7,692.3L959.2,692.9L958.8,693.6L958.4,694.2L957.9,694.9L957.5,695.5L957.1,696.2L956.8,696.9L956.4,697.6L956,698.3L955.7,699L955.4,699.7L955.1,700.4L954.7,701.2L954.4,701.9L954.1,702.6L953.9,703.3L953.6,704.1L953.3,704.8L953,705.5L952.8,706.3L952.5,707.1L952.3,707.8L952,708.6L951.8,709.4L951.6,710.2L951.4,711L951.2,711.8" fill="none" stroke="#fdcd4e" stroke-width="7.7" stroke-linejoin="round"/>
<path d="M1007.8,669.4L1007.9,669.9L1007.9,670.4L1008,671L1008.1,671.6L1008.2,672.4L1008.2,673.1L1008.3,673.9L1008.4,674.8L1008.5,675.7L1008.6,676.6L1008.7,677.5L1008.9,678.5L1009,679.5L1009.1,680.4L1009.3,681.4L1009.4,682.4L1009.6,683.4L1009.7,684.4L1009.9,685.3L1010.1,686.3L1010.3,687.2L1010.5,688.1L1010.7,688.9L1010.9,689.7L1011.1,690.5L1011.4,691.2L1011.6,692L1011.9,692.8L1012.1,693.5L1012.4,694.2L1012.7,695L1013,695.7L1013.3,696.4L1013.6,697.1L1013.9,697.8L1014.2,698.6L1014.5,699.3L1014.9,700L1015.2,700.6L1015.6,701.3L1015.9,702L1016.3,702.7L1016.7,703.4L1017.1,704.1L1017.5,704.8L1017.9,705.4L1018.3,706.1L1018.7,706.8L1019.1,707.5L1019.6,708.1L1020,708.8L1020.5,709.5L1021,710.1L1021.5,710.8L1022,711.4L1022.5,712.1L1023,712.7L1023.5,713.4L1024.1,714L1024.6,714.6L1025.1,715.3L1025.7,715.9L1026.2,716.6L1026.8,717.2L1027.3,717.8L1027.9,718.5L1028.4,719.1L1029,719.7L1029.5,720.4L1030,721L1030.6,721.7L1031.1,722.3L1031.6,722.9L1032.2,723.6L1032.7,724.2L1033.2,724.9L1033.8,725.5L1034.3,726.2L1034.9,726.8L1035.4,727.4L1036,728.1L1036.5,728.7L1037.1,729.4L1037.6,730L1038.2,730.6L1038.7,731.3L1039.3,731.9L1039.8,732.6L1040.3,733.2L1040.8,733.9L1041.3,734.6L1041.8,735.2L1042.3,735.9L1042.7,736.5L1043.2,737.2L1043.6,737.9L1044,738.6L1044.4,739.2L1044.8,739.9L1045.2,740.6L1045.6,741.2L1046,741.9L1046.3,742.5L1046.7,743.2L1047,743.9L1047.3,744.5L1047.7,745.2L1048,745.9L1048.3,746.6L1048.6,747.2L1048.9,748L1049.2,748.7L1049.5,749.4L1049.8,750.1L1050,750.9L1050.3,751.7L1050.6,752.5L1050.8,753.3L1051.1,754.1L1051.3,755L1051.5,755.9L1051.8,756.9L1052,757.9L1052.2,759L1052.4,760.1L1052.6,761.3L1052.8,762.4L1053,763.6L1053.2,764.9L1053.4,766.1L1053.6,767.3L1053.7,768.5L1053.9,769.7L1054,770.9L1054.2,772L1054.3,773.2L1054.5,774.2L1054.6,775.2L1054.7,776.2L1054.8,777.1L1054.9,777.9L1055,778.7L1055.1,779.3L1055.2,779.9" fill="none" stroke="#202020" stroke-width="11.5" stroke-linecap="round" stroke-linejoin="round"/><path d="M1045.9,667.1L1045.9,667.6L1045.9,668.2L1045.9,668.9L1045.9,669.6L1045.9,670.4L1045.8,671.3L1045.8,672.2L1045.8,673.2L1045.8,674.2L1045.8,675.2L1045.8,676.3L1045.8,677.3L1045.8,678.4L1045.8,679.5L1045.7,680.6L1045.7,681.7L1045.6,682.8L1045.6,683.9L1045.5,685L1045.5,686L1045.4,687L1045.3,687.9L1045.2,688.8L1045.1,689.7L1045,690.5L1044.9,691.3L1044.7,692.1L1044.6,692.9L1044.5,693.6L1044.3,694.4L1044.2,695.1L1044,695.9L1043.8,696.6L1043.7,697.3L1043.5,698L1043.3,698.7L1043.1,699.4L1042.9,700.1L1042.7,700.7L1042.5,701.4L1042.2,702.1L1042,702.8L1041.7,703.4L1041.5,704.1L1041.2,704.8L1041,705.4L1040.7,706.1L1040.4,706.8L1040.1,707.5L1039.8,708.1L1039.5,708.8L1039.1,709.5L1038.8,710.1L1038.4,710.8L1038,711.4L1037.6,712.1L1037.2,712.7L1036.9,713.4L1036.4,714L1036,714.6L1035.6,715.3L1035.2,715.9L1034.8,716.6L1034.4,717.2L1034,717.8L1033.5,718.5L1033.1,719.1L1032.7,719.7L1032.3,720.4L1031.9,721L1031.5,721.7L1031.1,722.3L1030.7,722.9L1030.3,723.6L1029.9,724.2L1029.5,724.9L1029.1,725.5L1028.7,726.2L1028.3,726.8L1027.9,727.4L1027.4,728.1L1027,728.7L1026.6,729.4L1026.2,730L1025.8,730.6L1025.4,731.3L1025,731.9L1024.6,732.6L1024.2,733.2L1023.9,733.9L1023.5,734.6L1023.1,735.2L1022.8,735.9L1022.4,736.5L1022.1,737.2L1021.8,737.9L1021.5,738.6L1021.2,739.2L1020.9,739.9L1020.6,740.6L1020.3,741.2L1020,741.9L1019.7,742.5L1019.5,743.1L1019.2,743.8L1018.9,744.4L1018.7,745.1L1018.4,745.8L1018.2,746.5L1018,747.1L1017.7,747.8L1017.5,748.6L1017.3,749.3L1017.1,750L1017,750.8L1016.8,751.6L1016.7,752.4L1016.5,753.2L1016.4,754.1L1016.3,755L1016.2,755.9L1016.1,757L1016.1,758L1016.1,759.2L1016.1,760.3L1016.1,761.6L1016.1,762.8L1016.1,764.1L1016.2,765.4L1016.2,766.7L1016.3,768L1016.4,769.3L1016.4,770.5L1016.5,771.8L1016.6,773L1016.7,774.2L1016.7,775.4L1016.8,776.4L1016.9,777.5L1016.9,778.4L1017,779.3L1017,780.1L1017.1,780.8L1017.1,781.4" fill="none" stroke="#202020" stroke-width="11.5" stroke-linecap="round" stroke-linejoin="round"/><path d="M1007.8,669.4L1007.9,669.9L1007.9,670.4L1008,671L1008.1,671.6L1008.2,672.4L1008.2,673.1L1008.3,673.9L1008.4,674.8L1008.5,675.7L1008.6,676.6L1008.7,677.5L1008.9,678.5L1009,679.5L1009.1,680.4L1009.3,681.4L1009.4,682.4L1009.6,683.4L1009.7,684.4L1009.9,685.3L1010.1,686.3L1010.3,687.2L1010.5,688.1L1010.7,688.9L1010.9,689.7L1011.1,690.5L1011.4,691.2L1011.6,692L1011.9,692.8L1012.1,693.5L1012.4,694.2L1012.7,695L1013,695.7L1013.3,696.4L1013.6,697.1L1013.9,697.8L1014.2,698.6L1014.5,699.3L1014.9,700L1015.2,700.6L1015.6,701.3L1015.9,702L1016.3,702.7L1016.7,703.4L1017.1,704.1L1017.5,704.8L1017.9,705.4L1018.3,706.1L1018.7,706.8L1019.1,707.5L1019.6,708.1L1020,708.8L1020.5,709.5L1021,710.1L1021.5,710.8L1022,711.4L1022.5,712.1L1023,712.7L1023.5,713.4L1024.1,714L1024.6,714.6L1025.1,715.3L1025.7,715.9L1026.2,716.6L1026.8,717.2L1027.3,717.8L1027.9,718.5L1028.4,719.1L1029,719.7L1029.5,720.4L1030,721L1030.6,721.7L1031.1,722.3L1031.6,722.9L1032.2,723.6L1032.7,724.2L1033.2,724.9L1033.8,725.5L1034.3,726.2L1034.9,726.8L1035.4,727.4L1036,728.1L1036.5,728.7L1037.1,729.4L1037.6,730L1038.2,730.6L1038.7,731.3L1039.3,731.9L1039.8,732.6L1040.3,733.2L1040.8,733.9L1041.3,734.6L1041.8,735.2L1042.3,735.9L1042.7,736.5L1043.2,737.2L1043.6,737.9L1044,738.6L1044.4,739.2L1044.8,739.9L1045.2,740.6L1045.6,741.2L1046,741.9L1046.3,742.5L1046.7,743.2L1047,743.9L1047.3,744.5L1047.7,745.2L1048,745.9L1048.3,746.6L1048.6,747.2L1048.9,748L1049.2,748.7L1049.5,749.4L1049.8,750.1L1050,750.9L1050.3,751.7L1050.6,752.5L1050.8,753.3L1051.1,754.1L1051.3,755L1051.5,755.9L1051.8,756.9L1052,757.9L1052.2,759L1052.4,760.1L1052.6,761.3L1052.8,762.4L1053,763.6L1053.2,764.9L1053.4,766.1L1053.6,767.3L1053.7,768.5L1053.9,769.7L1054,770.9L1054.2,772L1054.3,773.2L1054.5,774.2L1054.6,775.2L1054.7,776.2L1054.8,777.1L1054.9,777.9L1055,778.7L1055.1,779.3L1055.2,779.9" fill="none" stroke="#fff" stroke-width="7.7" stroke-linecap="round" stroke-linejoin="round"/><path d="M1045.9,667.1L1045.9,667.6L1045.9,668.2L1045.9,668.9L1045.9,669.6L1045.9,670.4L1045.8,671.3L1045.8,672.2L1045.8,673.2L1045.8,674.2L1045.8,675.2L1045.8,676.3L1045.8,677.3L1045.8,678.4L1045.8,679.5L1045.7,680.6L1045.7,681.7L1045.6,682.8L1045.6,683.9L1045.5,685L1045.5,686L1045.4,687L1045.3,687.9L1045.2,688.8L1045.1,689.7L1045,690.5L1044.9,691.3L1044.7,692.1L1044.6,692.9L1044.5,693.6L1044.3,694.4L1044.2,695.1L1044,695.9L1043.8,696.6L1043.7,697.3L1043.5,698L1043.3,698.7L1043.1,699.4L1042.9,700.1L1042.7,700.7L1042.5,701.4L1042.2,702.1L1042,702.8L1041.7,703.4L1041.5,704.1L1041.2,704.8L1041,705.4L1040.7,706.1L1040.4,706.8L1040.1,707.5L1039.8,708.1L1039.5,708.8L1039.1,709.5L1038.8,710.1L1038.4,710.8L1038,711.4L1037.6,712.1L1037.2,712.7L1036.9,713.4L1036.4,714L1036,714.6L1035.6,715.3L1035.2,715.9L1034.8,716.6L1034.4,717.2L1034,717.8L1033.5,718.5L1033.1,719.1L1032.7,719.7L1032.3,720.4L1031.9,721L1031.5,721.7L1031.1,722.3L1030.7,722.9L1030.3,723.6L1029.9,724.2L1029.5,724.9L1029.1,725.5L1028.7,726.2L1028.3,726.8L1027.9,727.4L1027.4,728.1L1027,728.7L1026.6,729.4L1026.2,730L1025.8,730.6L1025.4,731.3L1025,731.9L1024.6,732.6L1024.2,733.2L1023.9,733.9L1023.5,734.6L1023.1,735.2L1022.8,735.9L1022.4,736.5L1022.1,737.2L1021.8,737.9L1021.5,738.6L1021.2,739.2L1020.9,739.9L1020.6,740.6L1020.3,741.2L1020,741.9L1019.7,742.5L1019.5,743.1L1019.2,743.8L1018.9,744.4L1018.7,745.1L1018.4,745.8L1018.2,746.5L1018,747.1L1017.7,747.8L1017.5,748.6L1017.3,749.3L1017.1,750L1017,750.8L1016.8,751.6L1016.7,752.4L1016.5,753.2L1016.4,754.1L1016.3,755L1016.2,755.9L1016.1,757L1016.1,758L1016.1,759.2L1016.1,760.3L1016.1,761.6L1016.1,762.8L1016.1,764.1L1016.2,765.4L1016.2,766.7L1016.3,768L1016.4,769.3L1016.4,770.5L1016.5,771.8L1016.6,773L1016.7,774.2L1016.7,775.4L1016.8,776.4L1016.9,777.5L1016.9,778.4L1017,779.3L1017,780.1L1017.1,780.8L1017.1,781.4" fill="none" stroke="#fff" stroke-width="7.7" stroke-linecap="round" stroke-linejoin="round"/><path d="M1016.3,702.7L1016.7,703.4L1017.1,704.1L1017.5,704.8L1017.9,705.4L1018.3,706.1L1018.7,706.8L1019.1,707.5L1019.6,708.1L1020,708.8L1020.5,709.5L1021,710.1L1021.5,710.8L1022,711.4L1022.5,712.1L1023,712.7L1023.5,713.4L1024.1,714L1024.6,714.6L1025.1,715.3L1025.7,715.9L1026.2,716.6L1026.8,717.2L1027.3,717.8L1027.9,718.5L1028.4,719.1L1029,719.7L1029.5,720.4L1030,721L1030.6,721.7L1031.1,722.3L1031.6,722.9L1032.2,723.6L1032.7,724.2L1033.2,724.9L1033.8,725.5L1034.3,726.2L1034.9,726.8L1035.4,727.4L1036,728.1L1036.5,728.7L1037.1,729.4L1037.6,730L1038.2,730.6L1038.7,731.3L1039.3,731.9L1039.8,732.6L1040.3,733.2L1040.8,733.9L1041.3,734.6L1041.8,735.2L1042.3,735.9L1042.7,736.5L1043.2,737.2L1043.6,737.9L1044,738.6L1044.4,739.2L1044.8,739.9L1045.2,740.6L1045.6,741.2L1046,741.9L1046.3,742.5L1046.7,743.2L1047,743.9L1047.3,744.5L1047.7,745.2L1048,745.9L1048.3,746.6L1048.6,747.2L1048.9,748L1049.2,748.7L1049.5,749.4L1049.8,750.1L1050,750.9" fill="none" stroke="#202020" stroke-width="7.7" stroke-linejoin="round"/><path d="M1043.1,699.4L1042.9,700.1L1042.7,700.7L1042.5,701.4L1042.2,702.1L1042,702.8L1041.7,703.4L1041.5,704.1L1041.2,704.8L1041,705.4L1040.7,706.1L1040.4,706.8L1040.1,707.5L1039.8,708.1L1039.5,708.8L1039.1,709.5L1038.8,710.1L1038.4,710.8L1038,711.4L1037.6,712.1L1037.2,712.7L1036.9,713.4L1036.4,714L1036,714.6L1035.6,715.3L1035.2,715.9L1034.8,716.6L1034.4,717.2L1034,717.8L1033.5,718.5L1033.1,719.1L1032.7,719.7L1032.3,720.4L1031.9,721L1031.5,721.7L1031.1,722.3L1030.7,722.9L1030.3,723.6L1029.9,724.2L1029.5,724.9L1029.1,725.5L1028.7,726.2L1028.3,726.8L1027.9,727.4L1027.4,728.1L1027,728.7L1026.6,729.4L1026.2,730L1025.8,730.6L1025.4,731.3L1025,731.9L1024.6,732.6L1024.2,733.2L1023.9,733.9L1023.5,734.6L1023.1,735.2L1022.8,735.9L1022.4,736.5L1022.1,737.2L1021.8,737.9L1021.5,738.6L1021.2,739.2L1020.9,739.9L1020.6,740.6L1020.3,741.2L1020,741.9L1019.7,742.5L1019.5,743.1L1019.2,743.8L1018.9,744.4L1018.7,745.1L1018.4,745.8L1018.2,746.5L1018,747.1L1017.7,747.8L1017.5,748.6L1017.3,749.3L1017.1,750L1017,750.8L1016.8,751.6L1016.7,752.4" fill="none" stroke="#202020" stroke-width="7.7" stroke-linejoin="round"/><path d="M1016.7,703.4L1017.1,704.1L1017.5,704.8L1017.9,705.4L1018.3,706.1L1018.7,706.8L1019.1,707.5L1019.6,708.1L1020,708.8L1020.5,709.5L1021,710.1L1021.5,710.8L1022,711.4L1022.5,712.1L1023,712.7L1023.5,713.4L1024.1,714L1024.6,714.6L1025.1,715.3L1025.7,715.9L1026.2,716.6L1026.8,717.2L1027.3,717.8L1027.9,718.5L1028.4,719.1L1029,719.7L1029.5,720.4L1030,721L1030.6,721.7L1031.1,722.3L1031.6,722.9L1032.2,723.6L1032.7,724.2L1033.2,724.9L1033.8,725.5L1034.3,726.2L1034.9,726.8L1035.4,727.4L1036,728.1L1036.5,728.7L1037.1,729.4L1037.6,730L1038.2,730.6L1038.7,731.3L1039.3,731.9L1039.8,732.6L1040.3,733.2L1040.8,733.9L1041.3,734.6L1041.8,735.2L1042.3,735.9L1042.7,736.5L1043.2,737.2L1043.6,737.9L1044,738.6L1044.4,739.2L1044.8,739.9L1045.2,740.6L1045.6,741.2L1046,741.9L1046.3,742.5L1046.7,743.2L1047,743.9L1047.3,744.5L1047.7,745.2L1048,745.9L1048.3,746.6L1048.6,747.2L1048.9,748L1049.2,748.7L1049.5,749.4L1049.8,750.1" fill="none" stroke="#fdcd4e" stroke-width="7.7" stroke-linejoin="round"/><path d="M1042.9,700.1L1042.7,700.7L1042.5,701.4L1042.2,702.1L1042,702.8L1041.7,703.4L1041.5,704.1L1041.2,704.8L1041,705.4L1040.7,706.1L1040.4,706.8L1040.1,707.5L1039.8,708.1L1039.5,708.8L1039.1,709.5L1038.8,710.1L1038.4,710.8L1038,711.4L1037.6,712.1L1037.2,712.7L1036.9,713.4L1036.4,714L1036,714.6L1035.6,715.3L1035.2,715.9L1034.8,716.6L1034.4,717.2L1034,717.8L1033.5,718.5L1033.1,719.1L1032.7,719.7L1032.3,720.4L1031.9,721L1031.5,721.7L1031.1,722.3L1030.7,722.9L1030.3,723.6L1029.9,724.2L1029.5,724.9L1029.1,725.5L1028.7,726.2L1028.3,726.8L1027.9,727.4L1027.4,728.1L1027,728.7L1026.6,729.4L1026.2,730L1025.8,730.6L1025.4,731.3L1025,731.9L1024.6,732.6L1024.2,733.2L1023.9,733.9L1023.5,734.6L1023.1,735.2L1022.8,735.9L1022.4,736.5L1022.1,737.2L1021.8,737.9L1021.5,738.6L1021.2,739.2L1020.9,739.9L1020.6,740.6L1020.3,741.2L1020,741.9L1019.7,742.5L1019.5,743.1L1019.2,743.8L1018.9,744.4L1018.7,745.1L1018.4,745.8L1018.2,746.5L1018,747.1L1017.7,747.8L1017.5,748.6L1017.3,749.3L1017.1,750L1017,750.8L1016.8,751.6" fill="none" stroke="#fdcd4e" stroke-width="7.7" stroke-linejoin="round"/>
<circle class="w" cx="1023" cy="645.8" r="7" />
<path class="w" d="M1088.4,635.8Q1095,654.7 1114.9,661Q1095,667.3 1088.4,686.2Q1081.8,667.3 1061.9,661Q1081.8,654.7 1088.4,635.8Z"/>
<path class="w" d="M1154.1,593C1153.5,592.9 1152.9,593 1152.4,594.3C1151.8,595.6 1151.1,598.3 1150.6,600.8C1150,603.4 1149.5,606.8 1149,609.3C1148.6,611.8 1148.4,614.7 1147.9,615.9C1147.4,617.1 1147.6,617.4 1146,616.7C1144.3,616 1140.5,613.3 1137.9,611.6C1135.2,610 1132.2,608.2 1130.1,606.9C1128.1,605.5 1126.7,603.9 1125.7,603.6C1124.7,603.3 1124.1,604.4 1124.1,605.1C1124.2,605.8 1124.6,606.3 1125.9,607.8C1127.2,609.3 1130,611.8 1131.7,614C1133.4,616.1 1135.3,618.9 1136.3,620.9C1137.4,622.9 1137.9,625.2 1138,626.1C1138.1,627.1 1138,626.8 1136.7,626.8C1135.4,626.9 1132.1,626.2 1130.1,626.3C1128.2,626.4 1126.2,626.8 1124.7,627.6C1123.3,628.4 1121.5,630.1 1121.3,630.9C1121,631.8 1122.3,632.2 1123.4,632.6C1124.4,633 1125.9,632.7 1127.4,633.4C1129,634.1 1130.8,635.8 1132.5,637.1C1134.2,638.4 1136.8,640.3 1137.7,641.1C1138.6,641.9 1138.3,641.3 1137.7,642.1C1137.1,642.9 1135.1,644.1 1134,645.7C1132.9,647.3 1131.9,649.6 1131.3,651.8C1130.7,653.9 1130.5,657.1 1130.5,658.7C1130.6,660.3 1131,660.9 1131.5,661.2C1132.1,661.4 1132.4,660.9 1133.8,660.1C1135.3,659.3 1138.2,657.5 1140.2,656.4C1142.1,655.3 1143.9,654.3 1145.6,653.5C1147.3,652.6 1149.4,651.6 1150.4,651.4C1151.3,651.3 1150.9,651.4 1151.4,652.4C1151.8,653.3 1152.5,655.2 1153.3,657.2C1154.1,659.1 1155.4,662.3 1156.4,664.1C1157.3,665.9 1158.3,667.7 1159.1,668.1C1159.9,668.5 1160.6,667.7 1161.2,666.4C1161.7,665.1 1161.7,662.3 1162.2,660.2C1162.6,658.2 1163.2,655.9 1163.7,654.1C1164.2,652.3 1164.8,650.3 1165.2,649.4C1165.7,648.6 1165.5,648.9 1166.6,649.1C1167.6,649.4 1170.2,650.2 1171.8,651C1173.4,651.8 1174.9,652.9 1176.4,654.1C1178,655.3 1180.2,657.6 1181.2,658.1C1182.2,658.6 1182.5,657.8 1182.6,657.2C1182.7,656.5 1182.3,655.6 1181.8,654.1C1181.3,652.5 1180.4,649.8 1179.5,647.9C1178.6,646 1177.4,643.9 1176.4,642.5C1175.5,641.1 1174.3,640.2 1174,639.4C1173.6,638.7 1173.7,638.5 1174.5,638C1175.3,637.5 1177.1,636.7 1178.7,636.3C1180.3,635.9 1182.3,635.8 1184.1,635.7C1186,635.6 1188.4,635.8 1189.7,635.6C1191,635.3 1192.2,634.7 1192,634C1191.9,633.4 1190.3,632.7 1188.8,631.7C1187.2,630.7 1184.7,629.3 1182.6,628.2C1180.5,627.2 1178.1,626.2 1176.4,625.5C1174.7,624.9 1173.1,624.8 1172.4,624.4C1171.8,624.1 1172.2,624.1 1172.6,623.4C1173,622.6 1173.9,621.2 1174.9,620.1C1175.9,619.1 1177.6,617.9 1178.7,617C1179.9,616.1 1181,615.7 1181.7,614.7C1182.3,613.7 1183.1,611.5 1182.6,611C1182.1,610.6 1180.5,612.1 1178.7,612C1176.9,612 1173.7,610.7 1171.8,610.9C1169.9,611 1168.8,612 1167.2,612.8C1165.6,613.6 1163.2,615.2 1162.2,615.5C1161.1,615.8 1161.4,615.9 1160.8,614.9C1160.3,613.9 1159.4,611.5 1158.7,609.3C1158,607.1 1157.2,604.1 1156.8,601.6C1156.3,599.2 1156.4,596.1 1156,594.7C1155.5,593.2 1154.7,593 1154.1,593Z"/><circle class="w" cx="1156.8" cy="624.7" r="4.2" /><circle class="w" cx="1146.6" cy="636" r="4.2" /><circle class="w" cx="1161.9" cy="639" r="4.7" />
<path class="w" d="M1117.5,671.5 C1099.3,684.6 1084.5,704.2 1084.5,726 C1084.5,756.5 1099.3,778.3 1117.5,780.5 C1135.7,778.3 1150.5,756.5 1150.5,726 C1150.5,704.2 1135.7,684.6 1117.5,671.5Z"/>
<path class="l" d="M1117.5,695.5 V832.5"/>
<path class="l" d="M1104.2,712.9 L1117.5,722.2 L1130.8,712.9"/>
<path class="l" d="M1104.2,730.4 L1117.5,739.7 L1130.8,730.4"/>
<path class="l" d="M1104.2,749 L1117.5,758.3 L1130.8,749"/>
<path class="w" d="M1184.2,699.1L1173.8,708.7L1160.2,704.6L1157,690.7L1167.4,681.1L1181,685.2Z"/><path class="l" d="M1178.5,697.3L1172.5,702.9L1164.6,700.5L1162.7,692.5L1168.7,686.9L1176.6,689.3Z"/>
<path class="w" d="M1041.5,821L1031.1,830.6L1017.5,826.5L1014.3,812.6L1024.7,803L1038.3,807.1Z"/><path class="l" d="M1035.8,819.2L1029.8,824.8L1021.9,822.4L1020,814.4L1026,808.8L1033.9,811.2Z"/>
<circle class="w" cx="1163.6" cy="778.6" r="7" />
<circle class="w" cx="1148.1" cy="809.2" r="6.8" />
<circle class="w" cx="1172.6" cy="804" r="6.8" />
<path d="M963.7,781L963.5,781.9L963.2,782.8L962.6,783.7L961.9,784.6L961.1,785.5L960.2,786.4L959.4,787.3L958.6,788.2L958,789.1L957.6,790L957.3,790.9L957.3,791.8L957.5,792.6L958,793.5L958.6,794.4L959.3,795.3L960.2,796.2L961,797.1L961.9,798L962.6,798.9L963.1,799.8L963.5,800.7L963.7,801.6L963.6,802.5L963.3,803.4L962.9,804.3L962.2,805.2L961.4,806.1L960.6,807L959.7,807.9L958.9,808.8L958.2,809.7L957.7,810.6L957.4,811.5L957.3,812.4L957.4,813.2L957.8,814.1L958.3,815L959,815.9L959.8,816.8L960.7,817.7L961.5,818.6L962.3,819.5L962.9,820.4L963.4,821.3L963.7,822.2L963.7,823.1L963.5,824" fill="none" stroke="#2ea1d3" stroke-width="3.3" stroke-linecap="round" stroke-linejoin="round"/>
<path d="M976.2,781L976,781.9L975.7,782.8L975.1,783.7L974.4,784.6L973.6,785.5L972.7,786.4L971.9,787.3L971.1,788.2L970.5,789.1L970.1,790L969.8,790.9L969.8,791.8L970,792.6L970.5,793.5L971.1,794.4L971.8,795.3L972.7,796.2L973.5,797.1L974.4,798L975.1,798.9L975.6,799.8L976,800.7L976.2,801.6L976.1,802.5L975.8,803.4L975.4,804.3L974.7,805.2L973.9,806.1L973.1,807L972.2,807.9L971.4,808.8L970.7,809.7L970.2,810.6L969.9,811.5L969.8,812.4L969.9,813.2L970.3,814.1L970.8,815L971.5,815.9L972.3,816.8L973.2,817.7L974,818.6L974.8,819.5L975.4,820.4L975.9,821.3L976.2,822.2L976.2,823.1L976,824" fill="none" stroke="#2ea1d3" stroke-width="3.3" stroke-linecap="round" stroke-linejoin="round"/>
<path d="M988.5,781L988.3,781.9L988,782.8L987.4,783.7L986.7,784.6L985.9,785.5L985,786.4L984.2,787.3L983.4,788.2L982.8,789.1L982.4,790L982.1,790.9L982.1,791.8L982.3,792.6L982.8,793.5L983.4,794.4L984.1,795.3L985,796.2L985.8,797.1L986.7,798L987.4,798.9L987.9,799.8L988.3,800.7L988.5,801.6L988.4,802.5L988.1,803.4L987.7,804.3L987,805.2L986.2,806.1L985.4,807L984.5,807.9L983.7,808.8L983,809.7L982.5,810.6L982.2,811.5L982.1,812.4L982.2,813.2L982.6,814.1L983.1,815L983.8,815.9L984.6,816.8L985.5,817.7L986.3,818.6L987.1,819.5L987.7,820.4L988.2,821.3L988.5,822.2L988.5,823.1L988.3,824" fill="none" stroke="#2ea1d3" stroke-width="3.3" stroke-linecap="round" stroke-linejoin="round"/>
<path d="M1077.2,781L1077,781.9L1076.7,782.8L1076.1,783.7L1075.4,784.6L1074.6,785.5L1073.7,786.4L1072.9,787.3L1072.1,788.2L1071.5,789.1L1071.1,790L1070.8,790.9L1070.8,791.8L1071,792.6L1071.5,793.5L1072.1,794.4L1072.8,795.3L1073.7,796.2L1074.5,797.1L1075.4,798L1076.1,798.9L1076.6,799.8L1077,800.7L1077.2,801.6L1077.1,802.5L1076.8,803.4L1076.4,804.3L1075.7,805.2L1074.9,806.1L1074.1,807L1073.2,807.9L1072.4,808.8L1071.7,809.7L1071.2,810.6L1070.9,811.5L1070.8,812.4L1070.9,813.2L1071.3,814.1L1071.8,815L1072.5,815.9L1073.3,816.8L1074.2,817.7L1075,818.6L1075.8,819.5L1076.4,820.4L1076.9,821.3L1077.2,822.2L1077.2,823.1L1077,824" fill="none" stroke="#2ea1d3" stroke-width="3.3" stroke-linecap="round" stroke-linejoin="round"/>
<path d="M1089.9,781L1089.7,781.9L1089.4,782.8L1088.8,783.7L1088.1,784.6L1087.3,785.5L1086.4,786.4L1085.6,787.3L1084.8,788.2L1084.2,789.1L1083.8,790L1083.5,790.9L1083.5,791.8L1083.7,792.6L1084.2,793.5L1084.8,794.4L1085.5,795.3L1086.4,796.2L1087.2,797.1L1088.1,798L1088.8,798.9L1089.3,799.8L1089.7,800.7L1089.9,801.6L1089.8,802.5L1089.5,803.4L1089.1,804.3L1088.4,805.2L1087.6,806.1L1086.8,807L1085.9,807.9L1085.1,808.8L1084.4,809.7L1083.9,810.6L1083.6,811.5L1083.5,812.4L1083.6,813.2L1084,814.1L1084.5,815L1085.2,815.9L1086,816.8L1086.9,817.7L1087.7,818.6L1088.5,819.5L1089.1,820.4L1089.6,821.3L1089.9,822.2L1089.9,823.1L1089.7,824" fill="none" stroke="#2ea1d3" stroke-width="3.3" stroke-linecap="round" stroke-linejoin="round"/>
<path d="M1102.4,781L1102.2,781.9L1101.9,782.8L1101.3,783.7L1100.6,784.6L1099.8,785.5L1098.9,786.4L1098.1,787.3L1097.3,788.2L1096.7,789.1L1096.3,790L1096,790.9L1096,791.8L1096.2,792.6L1096.7,793.5L1097.3,794.4L1098,795.3L1098.9,796.2L1099.7,797.1L1100.6,798L1101.3,798.9L1101.8,799.8L1102.2,800.7L1102.4,801.6L1102.3,802.5L1102,803.4L1101.6,804.3L1100.9,805.2L1100.1,806.1L1099.3,807L1098.4,807.9L1097.6,808.8L1096.9,809.7L1096.4,810.6L1096.1,811.5L1096,812.4L1096.1,813.2L1096.5,814.1L1097,815L1097.7,815.9L1098.5,816.8L1099.4,817.7L1100.2,818.6L1101,819.5L1101.6,820.4L1102.1,821.3L1102.4,822.2L1102.4,823.1L1102.2,824" fill="none" stroke="#2ea1d3" stroke-width="3.3" stroke-linecap="round" stroke-linejoin="round"/>
<path class="w" d="M958.2,832.3 H987.7 V959.5 A43,43 0 0 0 1073.7,959.5 V832.3 H1103.1 V959.5 A72.45,72.45 0 0 1 958.2,959.5Z"/>
<path class="l" d="M958.2,942.5 H987.7 M1073.7,942.5 H1103.1"/>
<path d="M1027.3,848.5 L1047.5,909.4 L1044.8,913.8 L1016.3,911.4 L1040,967 L1036.9,968 L1002,906.5 L1001.5,904.2 L1005.2,901 L1036.7,903.6 L1024.6,848.5Z" fill="#fdcd4e" stroke="#fdcd4e" stroke-width="1.2" stroke-linejoin="round"/>
<path class="w" d="M921.4,887.6C921,887.5 920.7,887.6 920.3,888.5C919.9,889.4 919.5,891.2 919.1,892.9C918.7,894.7 918.3,897 918,898.7C917.7,900.4 917.6,902.4 917.2,903.2C916.9,904 917.1,904.2 915.9,903.7C914.8,903.3 912.2,901.4 910.4,900.3C908.6,899.2 906.5,898 905.1,897.1C903.7,896.1 902.8,895 902.1,894.8C901.4,894.6 901,895.4 901,895.8C901.1,896.3 901.4,896.7 902.2,897.7C903.1,898.7 905,900.4 906.2,901.9C907.4,903.4 908.6,905.2 909.3,906.6C910.1,908 910.5,909.5 910.5,910.2C910.5,910.9 910.5,910.7 909.6,910.7C908.7,910.7 906.5,910.2 905.1,910.3C903.8,910.4 902.5,910.7 901.4,911.2C900.4,911.7 899.2,912.9 899.1,913.5C898.9,914 899.8,914.4 900.5,914.6C901.2,914.9 902.3,914.6 903.3,915.2C904.3,915.7 905.5,916.8 906.7,917.7C907.9,918.6 909.7,919.9 910.3,920.4C910.9,921 910.7,920.6 910.3,921.1C909.9,921.6 908.5,922.5 907.8,923.6C907,924.7 906.3,926.2 905.9,927.7C905.5,929.2 905.4,931.4 905.4,932.4C905.4,933.5 905.7,933.9 906.1,934.1C906.5,934.3 906.7,933.9 907.7,933.4C908.6,932.8 910.6,931.6 912,930.8C913.3,930.1 914.5,929.4 915.7,928.8C916.8,928.3 918.3,927.6 918.9,927.5C919.6,927.4 919.3,927.5 919.6,928.1C919.9,928.8 920.4,930 920.9,931.4C921.5,932.7 922.4,934.9 923,936.1C923.7,937.4 924.3,938.6 924.9,938.8C925.4,939.1 925.9,938.6 926.3,937.7C926.6,936.8 926.7,934.9 927,933.5C927.3,932.1 927.7,930.5 928,929.3C928.4,928 928.8,926.7 929.1,926.1C929.4,925.5 929.2,925.7 930,925.9C930.7,926.1 932.4,926.6 933.6,927.2C934.7,927.7 935.6,928.5 936.7,929.3C937.8,930.1 939.3,931.6 940,932C940.7,932.4 940.9,931.8 940.9,931.4C941,930.9 940.7,930.3 940.4,929.3C940,928.2 939.4,926.4 938.8,925.1C938.2,923.7 937.3,922.3 936.7,921.4C936.1,920.4 935.2,919.8 935,919.3C934.8,918.8 934.9,918.7 935.4,918.3C935.9,918 937.2,917.4 938.3,917.2C939.4,916.9 940.7,916.8 942,916.7C943.2,916.6 944.9,916.8 945.8,916.6C946.7,916.4 947.4,916 947.3,915.6C947.2,915.1 946.2,914.7 945.1,914C944.1,913.3 942.3,912.3 940.9,911.6C939.5,910.9 937.9,910.2 936.7,909.8C935.6,909.4 934.4,909.3 934,909.1C933.5,908.8 933.8,908.8 934.1,908.3C934.4,907.8 935,906.8 935.7,906.1C936.4,905.4 937.5,904.6 938.3,904C939.1,903.4 939.9,903.1 940.3,902.4C940.7,901.7 941.3,900.2 940.9,899.9C940.6,899.6 939.5,900.6 938.3,900.6C937.1,900.6 934.9,899.7 933.6,899.8C932.2,899.9 931.5,900.6 930.4,901.1C929.3,901.6 927.7,902.7 927,902.9C926.3,903.2 926.5,903.2 926.1,902.5C925.7,901.8 925.1,900.2 924.6,898.7C924.1,897.2 923.6,895.1 923.3,893.5C923,891.8 923.1,889.7 922.8,888.7C922.5,887.8 921.9,887.6 921.4,887.6Z"/><circle class="w" cx="923.3" cy="909.2" r="2.9" /><circle class="w" cx="916.4" cy="916.9" r="2.9" /><circle class="w" cx="926.8" cy="919" r="3.2" />
<path class="w" d="M984.1,1039.9L973.7,1049.5L960.1,1045.4L956.9,1031.5L967.3,1021.9L980.9,1026Z"/><path class="l" d="M978.4,1038.1L972.4,1043.7L964.5,1041.3L962.6,1033.3L968.6,1027.7L976.5,1030.1Z"/>
<path class="l" d="M1114.1,875.5 L1122.4,864 L1130.7,875.5"/><path class="l" d="M1122.4,864 V880.5"/><path class="d" d="M1122.4,886.5 V998"/>
<circle class="w" cx="1110.6" cy="1026.4" r="13" />
<rect class="w" x="1145.7" y="834.7" width="38.8" height="209.8"/>
<rect class="w" x="1136.9" y="825.1" width="55.9" height="9.6"/>
<path class="l" d="M1169.5,861 H1184.5"/>
<path class="l" d="M1169.5,877.8 H1184.5"/>
<path class="l" d="M1169.5,894.1 H1184.5"/>
<path class="l" d="M1169.5,910.9 H1184.5"/>
<path class="l" d="M1169.5,927.4 H1184.5"/>
<path class="l" d="M1169.5,944.2 H1184.5"/>
<path class="l" d="M1169.5,960.5 H1184.5"/>
<path class="l" d="M1169.5,976.8 H1184.5"/>
<path class="l" d="M1169.5,993.1 H1184.5"/>
<path class="l" d="M1169.5,1009.4 H1184.5"/>
<path class="l" d="M1169.5,1026.4 H1184.5"/>
<path class="l" d="M1317.4,636.2 L1325.7,624.7 L1334,636.2"/><path class="l" d="M1325.7,624.7 V641.2"/><path class="d" d="M1325.7,647.2 V715.4"/>
<path d="M1365.9,633.6L1381.9,649.6L1381.9,664.6L1373.2,655.9L1373.2,689.4L1358.7,689.4L1358.7,655.9L1349.9,664.6L1349.9,649.6Z" fill="#fdcd4e"/>
<path class="d" d="M1360,691 V736 M1372.4,691 V736" stroke-dasharray="7 4.5"/>
<rect class="w" x="1336.9" y="736.6" width="57.5" height="57.3"/>
<text x="1365.5" y="777" font-size="30" text-anchor="middle">Cu</text>
<path class="l" d="M1402.1,688.1 L1410.4,676.6 L1418.7,688.1"/><path class="l" d="M1410.4,676.6 V693.1"/><path class="d" d="M1410.4,699.1 V767.3"/>
<path class="l" d="M1575.3,635.3 L1583.6,623.8 L1591.9,635.3"/><path class="l" d="M1583.6,623.8 V640.3"/><path class="d" d="M1583.6,646.3 V779"/>
<path class="w" d="M1548,632 Q1574,655 1574.5,690 Q1573,730 1527,753.5 L1524,739 Q1560,722 1561,690 Q1560,660 1541,641Z"/>
<path class="w" d="M1444,692 Q1443,722 1464,740 Q1476,750 1489,752.5 L1491,738.5 Q1480,736 1473,728 Q1462,716 1461.5,697.5Z"/>
<path class="w" d="M1488.3,779.6 V750 A19.5,19.5 0 0 1 1527.3,750 V779.6Z"/>
<circle cx="1508.2" cy="753" r="9.2" fill="none" stroke="#fdcd4e" stroke-width="5"/>
<path class="w" d="M1412,780 H1574 Q1576.3,780 1576.3,782.5 V796 Q1576.3,799.7 1572.5,799.7 H1570.5 Q1567,799.7 1567,796 Q1567,792.3 1563,792.3 H1423 Q1419,792.3 1419,796 Q1419,799.7 1415.5,799.7 H1413.5 Q1409.7,799.7 1409.7,796 V782.5 Q1409.7,780 1412,780Z"/>
<g transform="translate(1490.2 657.8) rotate(-52.3)"><rect class="w" x="0" y="-18" width="88.5" height="36"/><rect class="w" x="-8" y="-18.5" width="8" height="37"/><rect class="w" x="99" y="-18.5" width="13" height="37"/><rect class="w" x="88.3" y="-28" width="11" height="53"/></g>
<circle cx="1536" cy="626.5" r="18" fill="#4dcfcd" stroke="#202020" stroke-width="1.6"/>
<circle cx="1536" cy="626.5" r="6.3" fill="#fff"/>
<path d="M1434.8,680.6 L1477,691.6" stroke="#4dcfcd" stroke-width="3.2" stroke-linecap="round"/>
<g transform="translate(1455,692.2) rotate(15.5)"><rect class="w" x="-30.5" y="-2.6" width="61" height="5.2" rx="2.6"/></g>
<path class="w" d="M1522,674.7Q1527.6,690.5 1544.3,695.7Q1527.6,701 1522,716.7Q1516.4,701 1499.7,695.7Q1516.4,690.5 1522,674.7Z"/>
<path d="M1251,718 V810" class="l"/>
<path d="M1247.4,624.8L1247.8,612.2L1253.8,612.2L1254.2,624.8A41.9,41.9 0 0 1 1258.3,625.4L1261.9,613.3L1267.8,614.8L1264.9,627.2A41.9,41.9 0 0 1 1268.7,628.7L1275.4,618L1280.6,621L1274.7,632.2A41.9,41.9 0 0 1 1277.9,634.6L1287.1,626L1291.4,630.3L1282.8,639.5A41.9,41.9 0 0 1 1285.2,642.7L1296.4,636.8L1299.4,642L1288.7,648.7A41.9,41.9 0 0 1 1290.2,652.5L1302.6,649.6L1304.1,655.5L1292,659.1A41.9,41.9 0 0 1 1292.6,663.2L1305.2,663.6L1305.2,669.6L1292.6,670A41.9,41.9 0 0 1 1292,674.1L1304.1,677.7L1302.6,683.6L1290.2,680.7A41.9,41.9 0 0 1 1288.7,684.5L1299.4,691.2L1296.4,696.4L1285.2,690.5A41.9,41.9 0 0 1 1282.8,693.7L1291.4,702.9L1287.1,707.2L1277.9,698.6A41.9,41.9 0 0 1 1274.7,701L1280.6,712.2L1275.4,715.2L1268.7,704.5A41.9,41.9 0 0 1 1264.9,706L1267.8,718.4L1261.9,719.9L1258.3,707.8A41.9,41.9 0 0 1 1254.2,708.4L1253.8,721L1247.8,721L1247.4,708.4A41.9,41.9 0 0 1 1243.3,707.8L1239.7,719.9L1233.8,718.4L1236.7,706A41.9,41.9 0 0 1 1232.9,704.5L1226.2,715.2L1221,712.2L1226.9,701A41.9,41.9 0 0 1 1223.7,698.6L1214.5,707.2L1210.2,702.9L1218.8,693.7A41.9,41.9 0 0 1 1216.4,690.5L1205.2,696.4L1202.2,691.2L1212.9,684.5A41.9,41.9 0 0 1 1211.4,680.7L1199,683.6L1197.5,677.7L1209.6,674.1A41.9,41.9 0 0 1 1209,670L1196.4,669.6L1196.4,663.6L1209,663.2A41.9,41.9 0 0 1 1209.6,659.1L1197.5,655.5L1199,649.6L1211.4,652.5A41.9,41.9 0 0 1 1212.9,648.7L1202.2,642L1205.2,636.8L1216.4,642.7A41.9,41.9 0 0 1 1218.8,639.5L1210.2,630.3L1214.5,626L1223.7,634.6A41.9,41.9 0 0 1 1226.9,632.2L1221,621L1226.2,618L1232.9,628.7A41.9,41.9 0 0 1 1236.7,627.2L1233.8,614.8L1239.7,613.3L1243.3,625.4A41.9,41.9 0 0 1 1247.4,624.8Z" fill="#2ea1d3"/>
<circle cx="1250.8" cy="666.6" r="30.8" fill="#fff"/>
<text x="1251.2" y="672.5" font-size="16.5" text-anchor="middle" letter-spacing="0.8">GMO</text>
<path d="M1253.5,767.5 C1258,752 1275,736 1306,730 Q1316,729 1325,730.7 C1320,747 1305,762 1290,768 C1278,772 1262,772 1253.5,767.5Z" fill="#4dcfcd"/>
<path d="M1253.5,767.5 C1258,752 1275,736 1306,730 Q1316,729 1325,730.7 C1320,747 1305,762 1290,768 C1278,772 1262,772 1253.5,767.5Z" fill="#4dcfcd" transform="translate(2501.6 0) scale(-1 1)"/>
<path class="w" d="M1235,810.5 L1218.2,828 L1213,1050.9 H1566.8 L1564.7,827 L1543.5,810.5"/>
<path d="M1233.2,1020.8 Q1300,1019 1362,1019 Q1382,1020 1389.8,1028.5 Q1398,1020 1418,1019 Q1480,1019 1544.8,1020.8 L1566.8,1050.9 H1213Z" class="bs"/>
<path class="w" d="M1235,810.5 H1366 Q1386,811 1389.8,830 Q1394,811 1414,810.5 H1543.5 L1544.8,1020.8 Q1480,1019 1418,1019 Q1398,1020 1389.8,1028.5 Q1382,1020 1362,1019 Q1300,1019 1233.2,1020.8Z"/>
<path class="l" d="M1389.8,830 V1050.9"/>
<path class="l" d="M1256.3,926.2 H1367.2"/>
<path class="l" d="M1256.3,951.1 H1367.2"/>
<path class="l" d="M1256.3,972.4 H1367.2"/>
<path class="l" d="M1256.3,997.5 H1367.2"/>
<path class="l" d="M1411.8,832.8 H1523.3"/>
<path class="l" d="M1411.8,857.9 H1523.3"/>
<path class="l" d="M1411.8,879.6 H1523.3"/>
<path class="l" d="M1411.8,904.4 H1523.3"/>
<path class="l" d="M1411.8,926.2 H1523.3"/>
<path class="l" d="M1411.8,951.1 H1523.3"/>
<path class="l" d="M1411.8,972.4 H1523.3"/>
<path class="l" d="M1411.8,997.5 H1523.3"/>
<ellipse cx="1311" cy="873.6" rx="51" ry="16.2" fill="none" stroke="#202020" stroke-width="1.8" transform="rotate(0 1311 873.6)"/>
<ellipse cx="1311" cy="873.6" rx="51" ry="16.2" fill="none" stroke="#202020" stroke-width="1.8" transform="rotate(60 1311 873.6)"/>
<ellipse cx="1311" cy="873.6" rx="51" ry="16.2" fill="none" stroke="#202020" stroke-width="1.8" transform="rotate(-60 1311 873.6)"/>
<circle cx="1311" cy="873.6" r="7.8" fill="#fdcd4e"/>
<circle cx="1307.9" cy="871" r="1.6" fill="#fde9a8"/>
<circle cx="1297.2" cy="833.3" r="5.5" fill="#fdcd4e"/>
<circle cx="1295.5" cy="831.6" r="1.2" fill="#fff3c9"/>
<circle cx="1349.8" cy="881.8" r="5.5" fill="#fdcd4e"/>
<circle cx="1348.1" cy="880.1" r="1.2" fill="#fff3c9"/>
<circle cx="1282.4" cy="896.8" r="5.5" fill="#fdcd4e"/>
<circle cx="1280.8" cy="895.1" r="1.2" fill="#fff3c9"/>
<path class="l" d="M1574.1,847.5 L1582.4,836 L1590.7,847.5"/><path class="l" d="M1582.4,836 V852.5"/><path class="d" d="M1582.4,858.5 V1049"/>
</svg>
<div id="foot"></div>
<div id="logo">dreamstime.com</div>
<div id="credit">ID 80397989 &copy; Artur Kutskyi</div>
</body></html>
